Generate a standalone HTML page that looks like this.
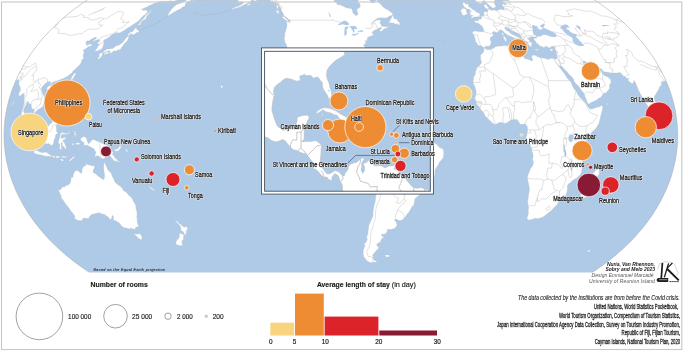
<!DOCTYPE html>
<html><head><meta charset="utf-8"><style>
html,body{margin:0;padding:0;background:#fff;}
svg{display:block;font-family:"Liberation Sans",Arial,sans-serif;}
.halo text{font-size:7px;fill:#fff;stroke:#fff;stroke-width:1.5px;stroke-opacity:.75;stroke-linejoin:round;}
.lb text{font-size:7px;fill:#222;stroke:#222;stroke-width:.3px;}
.it{font-size:7.1px;font-style:italic;fill:#222;stroke:#222;stroke-width:.12px;}
.cn{font-size:6.8px;fill:#1e1e1e;stroke:#1e1e1e;stroke-width:.28px;}
.lg{font-size:6.9px;fill:#1e1e1e;stroke:#1e1e1e;stroke-width:.15px;}
.au{font-size:5.0px;font-style:italic;}
</style></head><body>
<svg width="685" height="352" viewBox="0 0 685 352">
<defs>
<clipPath id="cb"><rect x="0" y="0" width="685" height="272.6"/></clipPath>
<clipPath id="ce"><path d="M540.4,299.4 540.8,299.2 541.8,298.8 543.5,298.1 545.8,297.0 548.7,295.7 552.1,294.2 556.0,292.4 560.2,290.4 564.7,288.1 569.5,285.7 574.4,283.1 579.4,280.3 584.5,277.3 589.6,274.1 594.6,270.9 599.6,267.5 604.6,263.9 609.4,260.3 614.1,256.5 618.7,252.6 623.2,248.6 627.5,244.6 631.6,240.4 635.6,236.2 639.4,231.8 643.1,227.4 646.5,223.0 649.9,218.5 653.0,213.9 655.9,209.2 658.7,204.5 661.3,199.8 663.7,195.0 665.9,190.2 668.0,185.3 669.8,180.4 671.5,175.5 672.9,170.5 674.2,165.6 675.3,160.6 676.1,155.6 676.8,150.5 677.3,145.5 677.6,140.5 677.7,135.4 677.6,130.4 677.3,125.4 676.8,120.3 676.1,115.3 675.3,110.3 674.2,105.3 672.9,100.3 671.5,95.4 669.8,90.4 668.0,85.6 665.9,80.7 663.7,75.9 661.3,71.1 658.7,66.3 655.9,61.6 653.0,57.0 649.9,52.4 646.5,47.9 643.1,43.4 639.4,39.0 635.6,34.7 631.6,30.5 627.5,26.3 623.2,22.2 618.7,18.3 614.1,14.4 609.4,10.6 604.6,7.0 599.6,3.4 594.6,-0.0 589.6,-3.3 584.5,-6.4 579.4,-9.4 574.4,-12.2 569.5,-14.8 564.7,-17.3 560.2,-19.5 556.0,-21.5 552.1,-23.3 548.7,-24.9 545.8,-26.2 543.5,-27.2 541.8,-27.9 540.8,-28.4 540.4,-28.5 141.3,-28.5 141.0,-28.4 139.9,-27.9 138.2,-27.2 135.9,-26.2 133.0,-24.9 129.6,-23.3 125.8,-21.5 121.6,-19.5 117.0,-17.3 112.3,-14.8 107.4,-12.2 102.4,-9.4 97.3,-6.4 92.2,-3.3 87.1,-0.0 82.1,3.4 77.2,7.0 72.3,10.6 67.6,14.4 63.0,18.3 58.6,22.2 54.3,26.3 50.1,30.5 46.2,34.7 42.3,39.0 38.7,43.4 35.2,47.9 31.9,52.4 28.8,57.0 25.8,61.6 23.0,66.3 20.5,71.1 18.0,75.9 15.8,80.7 13.8,85.6 11.9,90.4 10.3,95.4 8.8,100.3 7.6,105.3 6.5,110.3 5.6,115.3 4.9,120.3 4.4,125.4 4.1,130.4 4.0,135.4 4.1,140.5 4.4,145.5 4.9,150.5 5.6,155.6 6.5,160.6 7.6,165.6 8.8,170.5 10.3,175.5 11.9,180.4 13.8,185.3 15.8,190.2 18.0,195.0 20.5,199.8 23.0,204.5 25.8,209.2 28.8,213.9 31.9,218.5 35.2,223.0 38.7,227.4 42.3,231.8 46.2,236.2 50.1,240.4 54.3,244.6 58.6,248.6 63.0,252.6 67.6,256.5 72.3,260.3 77.2,263.9 82.1,267.5 87.1,270.9 92.2,274.1 97.3,277.3 102.4,280.3 107.4,283.1 112.3,285.7 117.0,288.1 121.6,290.4 125.8,292.4 129.6,294.2 133.0,295.7 135.9,297.0 138.2,298.1 139.9,298.8 141.0,299.2 141.3,299.4Z"/></clipPath>
<clipPath id="ci"><rect x="264.6" y="51.3" width="165.7" height="139.9"/></clipPath>
<g id="world"><path d="M372.2,33.4 373.7,35.1 372.9,35.6 371.6,35.8 369.7,36.4 367.8,37.3 367.3,37.9 367.3,39.5 366.1,41.4 365.0,40.1 365.8,42.8 364.7,45.2 363.9,43.7 363.9,45.9 365.0,47.2 365.6,49.7 364.0,50.8 362.0,52.0 360.5,52.9 359.3,54.2 357.5,55.9 356.2,57.9 355.9,60.9 356.3,62.6 357.4,65.4 357.7,67.3 358.6,69.4 358.5,71.6 358.0,73.0 356.9,73.0 356.6,71.8 355.5,70.1 354.7,68.9 354.0,67.5 353.6,65.9 353.7,64.5 352.6,63.5 351.6,61.9 350.7,61.6 348.9,62.3 347.5,60.7 345.2,60.9 344.2,60.2 343.0,60.7 341.6,61.2 341.9,62.8 342.3,63.8 341.2,63.5 340.0,63.8 338.6,63.3 336.8,62.6 334.2,62.3 332.6,63.3 331.4,64.5 329.6,65.6 328.1,67.3 327.7,69.4 328.1,71.3 327.5,73.5 327.1,76.3 326.8,79.2 327.7,82.4 328.9,85.8 329.8,87.8 331.8,89.2 332.8,90.0 334.5,89.5 336.5,89.0 338.3,88.2 339.6,87.0 340.2,84.8 340.3,83.1 341.8,82.4 344.0,81.9 346.1,81.9 346.7,83.4 345.6,85.1 345.2,87.3 344.9,89.5 344.2,89.0 344.0,91.4 344.0,94.4 343.3,95.6 344.9,95.9 347.5,95.9 350.1,95.4 351.7,96.4 353.4,97.8 353.0,99.8 352.9,102.8 352.5,105.8 352.7,107.8 353.7,110.0 355.0,111.8 356.1,113.0 357.6,113.0 359.5,112.0 360.4,111.3 362.1,111.8 363.6,113.3 364.5,113.8 365.3,114.3 365.6,113.0 366.5,111.8 367.4,110.5 367.6,109.3 368.3,108.0 369.1,107.8 370.2,107.3 371.8,107.0 373.1,106.0 374.2,105.0 375.3,104.3 375.9,105.3 374.8,107.0 374.5,108.0 375.0,109.0 374.5,110.3 375.1,112.8 376.0,111.5 376.0,109.0 375.2,107.8 376.1,107.3 377.6,106.8 377.9,105.0 378.5,106.5 380.2,106.8 381.3,108.8 383.0,108.8 385.1,108.8 387.1,110.0 388.8,109.0 391.0,108.8 393.0,108.5 392.1,109.5 391.8,110.5 393.7,111.3 395.2,113.8 397.1,114.5 398.8,116.8 400.0,118.3 401.9,120.3 404.3,120.8 406.2,120.3 408.1,121.1 410.2,121.8 411.9,123.8 413.2,124.9 413.8,126.4 415.0,130.4 415.7,132.9 415.9,135.9 418.5,136.9 419.5,137.5 421.2,137.2 424.3,138.7 426.0,141.7 428.0,141.5 430.5,142.2 433.5,142.5 435.3,143.5 437.3,145.0 439.5,147.5 441.2,148.3 443.0,148.8 443.7,151.8 443.7,155.1 443.0,158.1 441.6,159.8 439.4,162.3 437.7,165.8 435.9,168.1 435.0,170.5 434.6,175.0 433.8,179.2 432.6,181.9 431.8,184.3 430.0,188.2 429.4,190.2 427.3,192.4 425.3,192.6 422.3,193.3 420.2,194.5 417.7,196.2 415.0,198.8 414.4,201.2 414.0,204.5 412.3,206.4 410.5,209.2 409.1,212.0 407.0,214.3 405.1,217.3 403.5,218.7 402.1,220.0 400.3,220.5 398.6,220.5 397.2,219.6 395.0,219.1 394.5,220.3 396.4,222.1 396.5,223.7 397.2,224.8 395.4,227.7 393.6,228.8 390.5,229.4 388.1,229.6 387.2,229.2 387.3,231.0 386.3,233.1 384.0,234.4 381.9,233.8 381.8,236.2 383.1,236.6 383.9,237.9 382.4,238.1 381.2,239.6 380.6,241.4 380.0,242.5 377.7,243.3 376.5,245.2 378.0,246.6 378.9,248.0 377.8,249.2 375.8,251.0 374.6,253.0 373.1,254.0 372.7,255.7 373.6,257.1 371.9,257.4 373.2,257.8 373.5,259.3 374.4,260.3 376.1,261.2 377.7,261.9 375.6,262.3 373.4,262.1 371.1,262.8 369.0,262.1 366.9,260.8 365.6,259.1 364.2,257.4 363.4,255.7 363.2,253.0 363.3,250.0 364.2,247.8 365.3,245.4 363.8,245.0 365.6,242.5 366.8,241.0 367.3,238.9 366.6,237.6 367.3,235.3 368.0,232.9 368.2,230.1 368.6,227.4 368.7,225.7 370.3,222.1 371.3,219.8 372.4,217.5 373.1,214.8 373.2,210.6 373.7,207.4 374.5,204.1 375.3,201.0 375.7,197.4 376.1,194.0 376.6,190.2 377.0,186.5 376.8,181.4 374.9,179.7 373.0,177.5 370.6,175.5 368.1,173.5 366.3,170.5 365.6,168.1 364.8,165.6 363.2,161.8 361.5,157.6 360.3,154.6 359.0,152.8 357.3,150.8 357.9,149.3 357.1,147.0 358.3,144.8 359.2,143.8 360.0,141.7 359.0,141.5 357.9,140.7 358.1,138.0 359.0,135.9 359.6,133.9 360.5,132.7 361.8,131.4 362.4,129.1 364.1,126.6 364.6,124.9 364.4,121.3 364.2,118.8 363.2,117.1 362.5,115.1 361.9,113.8 360.2,113.0 358.8,114.8 358.8,116.6 357.3,116.3 356.0,114.8 354.1,114.8 352.8,113.5 350.9,111.3 350.0,110.5 348.9,110.5 348.7,108.3 348.9,107.5 347.4,105.5 345.9,103.6 345.1,102.3 343.6,102.3 342.0,101.6 339.8,100.6 338.3,100.3 336.8,99.1 335.0,96.9 333.5,95.1 332.2,94.9 330.8,95.6 328.9,96.1 326.6,95.4 324.7,93.9 322.7,93.4 320.6,91.7 319.1,90.7 316.2,89.7 314.6,88.0 313.2,86.5 312.6,84.6 313.2,82.9 312.9,80.2 311.7,78.3 310.5,76.3 309.0,74.4 307.9,72.8 306.6,72.0 306.4,70.1 305.3,68.5 304.5,66.8 303.6,66.6 302.2,64.5 301.0,61.6 300.6,59.3 299.2,58.2 297.8,57.5 298.0,59.1 297.6,61.6 299.4,64.0 300.2,65.2 301.0,68.0 302.1,69.9 302.9,71.6 303.9,73.9 304.5,75.4 305.3,76.8 305.0,78.5 304.4,77.6 303.2,75.9 301.5,74.4 301.2,73.0 301.2,70.6 299.9,69.2 298.4,67.8 297.0,67.3 298.1,66.3 297.7,65.2 296.2,62.6 295.3,60.0 294.8,58.4 294.0,55.9 293.8,54.5 292.6,52.9 291.8,52.4 290.5,51.5 288.5,51.3 288.5,49.9 287.6,48.8 286.8,47.2 287.1,46.1 286.2,45.2 286.3,43.9 285.5,43.2 284.6,41.4 284.7,39.5 284.1,38.2 284.7,36.9 284.9,34.7 284.7,33.0 285.7,31.1 286.2,29.0 286.7,27.1 286.9,25.7 287.0,24.3 286.6,22.4 286.6,21.4 289.0,21.8 289.9,23.0 290.2,20.8 289.4,20.0 288.5,19.1 287.6,18.5 286.4,17.5 284.6,16.7 283.5,15.7 283.4,14.0 282.5,12.5 281.4,11.0 280.9,9.5 280.8,8.0 279.6,7.0 278.8,5.2 277.9,3.4 276.8,2.4 275.1,2.5 273.4,2.0 272.0,1.3 270.5,0.5 268.4,-0.0 266.2,-0.0 263.9,-0.5 261.5,-1.5 259.0,-1.0 257.1,0.2 254.7,1.0 253.1,1.2 254.5,-0.7 252.7,-0.3 250.7,1.0 249.1,2.4 246.9,3.6 244.3,4.8 242.0,5.9 238.6,7.5 235.7,8.2 233.4,9.0 229.7,9.9 232.5,8.6 235.6,7.1 238.9,5.9 241.8,4.3 244.2,2.5 242.6,2.0 240.7,1.9 238.1,2.4 238.5,0.7 236.8,-0.3 235.4,-1.0 236.7,-2.6 236.3,-3.9 238.5,-5.2 241.2,-5.0 244.1,-6.4 242.7,-7.3 238.5,-7.6 237.1,-8.8 241.8,-9.8 244.4,-9.7 243.7,-11.5 242.3,-12.9 249.4,-14.8 257.2,-16.4 262.8,-15.8 271.1,-15.0 275.9,-14.4 281.8,-13.5 290.1,-14.8 297.7,-14.8 306.2,-13.4 314.9,-12.2 326.6,-11.9 333.1,-12.2 335.6,-9.4 340.9,-6.4 336.7,-3.9 335.0,-2.3 334.4,-0.3 334.3,1.7 336.3,2.2 337.3,4.5 340.0,4.8 343.2,6.2 345.6,7.5 348.4,8.2 351.4,8.4 352.3,10.2 352.8,12.5 353.9,14.0 355.4,15.3 356.6,15.5 357.6,14.8 357.8,13.2 357.3,11.4 356.6,10.1 358.0,8.6 359.7,7.3 360.4,5.9 359.9,4.1 359.0,3.1 357.4,2.2 358.4,0.3 358.2,-1.3 357.4,-3.9 361.5,-3.8 365.8,-2.6 368.8,-1.7 369.9,0.8 371.7,2.4 373.1,2.9 374.7,2.0 376.1,-0.0 377.3,0.7 378.8,2.7 381.1,4.5 382.4,6.4 384.8,8.2 387.5,9.7 389.8,11.2 392.4,13.4 393.0,14.8 391.4,15.5 389.1,16.3 387.2,17.7 384.5,18.1 381.2,17.7 378.5,17.9 376.8,19.1 374.6,20.2 372.8,22.0 370.8,24.5 372.1,23.7 373.6,22.0 375.1,21.0 377.3,20.0 379.7,19.8 381.0,20.8 380.2,22.0 379.7,22.6 380.9,24.3 381.2,25.5 383.1,26.5 385.5,26.7 387.0,26.9 387.8,25.9 388.7,26.5 387.3,27.8 385.2,28.6 383.2,29.4 382.1,30.9 380.4,31.5 379.5,30.5 381.0,28.8 382.2,27.8 380.9,27.6 379.2,28.0 377.8,28.6 376.8,29.4 375.4,29.8 374.2,30.7 372.9,31.3 372.2,32.4ZM389.2,23.0 390.5,22.8 392.3,23.0 394.4,23.3 395.6,24.5 397.0,23.5 398.5,24.9 399.8,24.7 399.6,23.0 398.4,21.2 397.1,20.4 397.2,19.1 395.7,19.1 393.9,18.5 393.5,16.3 393.4,15.2 391.8,16.7 391.1,18.5 390.3,20.0 389.3,21.4ZM288.6,21.6 286.6,21.0 285.3,19.8 283.4,18.5 281.9,16.9 283.6,16.5 285.6,17.9 286.9,19.2 288.3,20.8ZM406.4,0.3 403.4,-0.7 399.5,-1.7 396.4,-4.1 393.7,-6.4 390.6,-9.4 387.6,-12.2 385.1,-15.5 377.1,-20.6 364.6,-22.5 375.2,-25.9 408.6,-27.0 421.1,-25.6 426.1,-22.5 426.7,-17.3 424.7,-14.8 422.2,-12.9 416.1,-12.2 413.8,-9.4 410.1,-8.7 407.9,-6.4 407.5,-4.1 407.2,-1.7ZM433.0,-6.3 438.2,-5.5 442.6,-7.0 443.0,-8.2 439.9,-9.8 437.4,-9.7 433.5,-9.5 430.1,-10.0 428.4,-8.7 432.4,-7.2ZM350.0,81.0 351.0,79.7 352.8,78.5 354.2,78.0 356.0,78.0 357.8,78.3 359.6,79.0 361.1,79.7 362.7,80.9 364.2,81.7 365.9,82.6 367.0,83.4 368.4,84.1 369.7,84.9 368.5,85.4 366.9,85.7 364.7,85.7 363.2,85.9 364.1,84.3 362.8,83.8 361.5,81.9 360.0,81.7 358.2,80.7 356.6,80.4 355.5,80.0 353.8,79.0 352.6,80.2 351.2,80.8ZM353.7,80.9 354.3,81.9 353.7,82.0 353.3,81.4ZM369.3,89.6 370.6,90.0 372.3,90.1 373.8,90.0 374.9,91.3 375.9,89.8 377.4,89.8 378.7,89.3 379.8,89.8 380.4,89.0 379.3,88.2 378.0,87.8 377.7,87.1 378.6,87.3 377.3,86.3 375.8,85.9 374.1,85.9 372.5,85.7 371.1,85.9 371.8,86.5 372.4,87.3 372.3,88.2 373.2,88.9 371.2,89.0 369.3,88.9ZM362.2,89.8 363.5,89.2 364.8,89.3 366.0,90.0 365.4,90.7 364.3,91.1 363.2,90.8 362.2,90.0ZM382.4,89.2 384.1,89.2 385.4,89.6 385.2,90.4 383.6,90.6 382.5,90.4ZM393.0,108.3 394.7,108.2 394.8,109.8 394.7,110.2 393.1,110.2 393.7,109.2ZM362.3,73.0 362.9,74.4 362.8,76.3 361.8,75.4 361.6,73.9ZM360.4,69.4 361.8,69.3 362.4,69.7 361.3,69.8ZM363.4,68.9 364.0,69.9 363.8,71.1 363.3,70.1ZM364.6,72.3 365.5,73.0 365.7,74.2 365.2,73.2ZM367.3,76.6 368.0,78.0 367.7,78.3 367.3,77.3ZM370.4,82.6 371.7,82.6 371.5,83.4 370.6,83.2ZM364.3,75.1 366.6,77.3 366.4,77.4 364.5,75.6ZM366.6,74.2 367.0,75.4 366.9,75.5 366.5,74.7ZM-127.1,47.9 -126.8,46.5 -127.0,45.2 -130.1,45.7 -126.3,42.8 -126.1,41.7 -122.1,39.3 -118.6,36.9 -115.8,34.7 -113.7,32.8 -110.2,31.5 -108.3,31.1 -105.8,31.3 -103.5,31.7 -100.0,31.7 -95.8,29.4 -91.6,26.7 -88.6,23.9 -88.9,22.8 -89.9,22.4 -88.7,21.4 -85.4,20.6 -83.7,21.0 -82.6,20.8 -79.8,18.9 -79.8,19.4 -77.3,19.2 -74.7,18.5 -72.1,17.5 -70.4,16.5 -68.3,16.1 -65.8,15.5 -63.0,14.6 -59.8,13.2 -57.4,12.1 -55.4,11.7 -53.6,11.7 -51.4,11.4 -48.8,10.6 -46.5,9.3 -44.4,7.9 -41.0,6.1 -38.2,5.0 -36.0,4.6 -33.1,3.9 -35.9,5.2 -38.5,6.4 -37.3,6.2 -39.7,7.3 -42.4,8.0 -44.4,9.1 -44.8,10.1 -44.3,10.4 -42.4,10.1 -40.6,10.1 -41.1,10.8 -37.0,10.1 -33.5,9.3 -31.8,9.3 -31.4,9.9 -28.4,9.0 -24.8,7.5 -22.2,6.1 -18.3,4.5 -15.8,3.9 -16.8,5.0 -15.2,4.8 -11.2,2.9 -11.4,2.4 -9.4,1.3 -6.5,0.8 -4.1,0.8 -2.0,0.8 1.5,0.2 1.8,-0.3 0.0,-0.8 -3.8,-0.3 -7.7,0.2 -7.1,-1.2 -3.3,-3.0 0.8,-4.9 5.9,-6.4 11.8,-7.8 15.0,-8.7 12.9,-9.1 9.5,-8.5 3.2,-6.4 -3.0,-4.9 -8.8,-3.0 -13.0,-1.2 -12.8,-0.3 -15.2,1.0 -19.8,2.2 -24.1,3.8 -28.6,5.9 -31.2,6.8 -35.0,7.7 -36.0,8.0 -37.9,8.0 -35.5,6.6 -33.9,5.5 -31.6,4.1 -29.6,2.7 -27.1,1.3 -25.7,0.3 -29.3,1.7 -31.0,2.0 -35.1,3.2 -37.2,3.4 -37.0,2.4 -34.9,1.2 -31.6,-0.5 -28.0,-2.0 -25.2,-3.3 -20.9,-4.2 -15.9,-5.5 -10.2,-6.7 -5.3,-7.9 0.3,-9.4 7.7,-11.5 13.1,-12.9 19.2,-14.2 25.3,-15.1 31.8,-16.1 36.8,-16.1 38.0,-15.1 38.3,-13.9 40.6,-13.5 41.9,-11.9 39.0,-10.1 33.5,-9.4 30.5,-9.8 28.5,-10.1 25.5,-7.9 25.3,-6.4 28.9,-7.3 31.2,-7.2 38.8,-9.4 42.4,-9.8 49.0,-12.6 50.3,-12.2 55.5,-12.2 62.2,-12.9 68.2,-13.3 72.8,-14.2 79.2,-14.2 81.6,-13.5 95.9,-17.9 107.0,-18.4 124.7,-21.1 138.7,-22.0 150.6,-22.0 149.0,-19.2 156.3,-18.4 165.2,-17.9 172.1,-16.7 181.3,-17.9 190.9,-16.7 200.9,-14.6 213.9,-14.8 221.1,-14.4 225.1,-13.3 228.7,-11.5 234.1,-10.1 235.3,-9.4 230.0,-7.5 227.6,-6.9 225.0,-7.9 221.9,-8.2 217.7,-7.2 214.4,-4.9 215.8,-4.1 211.0,-3.3 208.0,-3.0 204.0,-1.5 200.3,-0.0 197.5,-0.5 194.1,0.2 191.1,0.3 188.8,1.3 185.6,3.4 185.1,5.2 184.7,6.6 182.5,7.1 180.8,8.8 176.8,10.6 173.1,12.7 167.4,16.3 168.6,13.4 171.1,9.7 173.6,7.0 177.2,4.3 179.9,3.4 183.6,1.7 188.7,-0.8 193.0,-2.5 193.5,-3.8 189.1,-2.8 187.1,-2.8 183.3,-2.5 177.0,0.3 173.2,1.3 170.9,0.8 167.7,1.2 164.9,1.2 161.3,1.2 157.2,2.4 153.8,3.6 149.8,5.5 146.8,7.0 142.8,8.8 140.9,9.3 143.1,9.5 143.2,10.6 145.5,10.1 147.0,10.2 147.5,11.9 146.0,14.0 143.1,15.9 141.0,18.3 138.3,21.2 134.3,23.7 130.7,26.3 128.0,27.8 124.1,30.5 120.7,32.4 117.8,33.2 116.7,32.2 114.5,33.4 113.3,34.1 111.4,35.1 109.5,37.1 108.2,37.7 106.2,39.0 104.3,39.7 103.4,40.8 104.0,42.1 103.7,43.9 103.3,45.9 102.2,48.1 100.7,49.7 99.3,50.1 97.0,51.1 95.1,51.5 95.2,50.6 96.7,48.8 97.9,46.8 97.9,45.9 99.8,44.5 99.0,44.1 97.5,44.1 97.8,43.2 97.4,42.8 99.1,41.7 100.0,40.1 99.3,39.7 98.9,39.3 96.5,39.9 93.7,41.2 92.4,41.7 93.7,40.3 95.1,39.3 96.4,38.2 96.2,37.1 95.0,37.3 92.9,38.4 91.0,39.5 88.9,41.0 87.5,40.8 86.1,41.9 85.7,43.0 86.4,43.4 86.3,45.0 86.9,45.4 89.1,44.3 91.0,44.1 92.2,45.0 91.3,45.9 88.7,46.5 86.7,47.9 83.7,50.1 83.0,51.1 84.3,51.7 83.6,53.8 83.0,56.1 83.7,57.7 82.7,59.6 81.4,60.0 81.7,61.6 80.7,63.5 79.0,65.6 77.2,67.3 75.2,69.2 73.1,71.1 72.1,72.8 69.9,74.4 67.9,75.9 65.3,77.6 62.8,78.8 61.0,79.2 59.8,80.0 58.7,80.0 57.5,80.7 55.7,81.2 53.6,81.9 52.1,82.6 51.2,84.6 50.2,84.8 50.5,83.1 50.8,81.7 49.0,81.7 47.3,81.9 45.3,83.4 44.0,85.1 42.3,86.5 41.3,88.5 41.9,90.4 42.2,92.4 43.1,94.4 43.9,95.9 44.5,97.4 44.2,100.6 43.6,103.8 42.9,106.3 41.6,107.5 39.2,109.0 37.7,109.5 36.5,111.0 34.7,112.8 33.4,113.8 34.0,111.3 34.3,109.5 33.4,109.3 31.9,108.8 31.4,106.5 31.0,104.8 29.6,103.6 28.1,103.6 28.6,101.8 27.1,101.6 26.4,104.1 24.6,107.8 23.7,109.8 23.6,112.3 24.5,112.3 24.7,114.5 24.9,117.1 25.7,118.1 27.0,118.1 27.8,119.8 29.1,121.3 29.6,123.3 29.5,125.6 29.3,127.9 30.0,129.1 30.7,131.4 29.5,132.2 29.2,131.4 27.7,130.4 25.6,128.4 24.9,126.6 24.3,124.1 24.2,121.3 24.3,119.3 23.3,118.1 22.6,116.3 21.7,115.1 21.3,113.8 22.1,111.5 22.7,109.0 23.0,106.5 23.8,104.6 24.0,102.3 23.9,99.1 24.3,95.4 24.2,93.2 22.4,94.1 20.1,95.9 18.6,95.4 18.7,93.6 20.4,90.4 20.3,88.0 20.1,86.5 19.2,85.6 18.8,83.6 19.1,81.4 19.4,80.0 18.6,79.2 16.8,80.4 15.6,80.7 13.8,81.2 12.3,81.4 9.9,81.9 9.0,83.6 7.6,85.1 5.3,86.3 3.6,87.5 1.3,89.7 -0.5,90.9 -3.0,92.9 -4.9,94.6 -6.5,95.6 -8.3,97.4 -9.4,100.3 -9.6,102.3 -10.6,104.6 -11.4,106.5 -12.1,108.8 -13.2,109.5 -14.5,112.0 -16.0,113.0 -17.6,115.1 -18.4,114.0 -19.0,112.3 -19.1,110.0 -19.2,107.0 -19.4,105.0 -19.9,102.8 -19.6,100.3 -19.9,98.3 -20.1,95.6 -19.7,92.9 -19.1,90.0 -18.3,87.5 -17.3,84.8 -16.3,82.9 -16.2,81.7 -15.7,80.2 -17.4,81.9 -19.5,83.6 -20.7,83.4 -21.5,81.7 -21.7,80.2 -19.7,78.8 -18.7,78.5 -20.8,78.8 -21.2,77.8 -21.4,76.6 -22.6,76.3 -22.1,74.2 -22.0,72.5 -24.1,72.8 -26.1,73.0 -28.0,73.0 -30.5,73.0 -31.6,73.2 -33.3,72.5 -34.7,72.3 -36.4,72.0 -37.9,71.6 -36.9,69.2 -37.7,68.5 -40.1,69.7 -41.6,69.9 -43.1,69.4 -44.1,67.8 -45.1,66.6 -44.9,64.5 -44.0,61.9 -44.9,61.6 -45.4,60.7 -47.2,61.9 -48.9,63.3 -49.6,65.2 -50.4,67.3 -50.1,68.9 -49.9,70.4 -51.0,72.0 -51.2,73.5 -51.3,74.2 -50.7,74.7 -50.4,75.1 -50.5,75.9 -48.8,75.4 -47.1,75.6 -46.1,75.4 -44.1,73.9 -42.0,72.5 -39.9,70.8 -38.8,70.1 -40.0,71.8 -41.0,73.7 -41.0,75.4 -40.6,76.1 -39.4,76.6 -38.6,77.1 -38.6,79.0 -38.1,79.5 -40.4,82.1 -42.4,84.1 -43.9,84.6 -45.2,86.3 -46.0,88.0 -48.1,89.0 -49.7,90.7 -51.9,91.4 -53.0,92.9 -54.7,92.9 -56.8,93.6 -59.2,95.6 -61.7,97.4 -65.1,98.6 -67.4,100.3 -68.8,100.3 -70.9,101.6 -73.5,102.1 -75.2,103.3 -77.2,103.8 -78.1,103.8 -78.0,102.3 -77.4,100.1 -77.3,98.3 -76.9,96.1 -76.0,94.4 -75.7,92.9 -76.4,90.9 -76.3,88.7 -76.0,86.8 -76.3,85.1 -76.8,83.6 -76.8,81.9 -75.3,79.2 -74.9,76.8 -75.1,75.6 -75.2,74.4 -75.0,73.2 -74.6,71.3 -74.3,69.7 -74.1,67.8 -73.7,66.1 -74.6,66.1 -72.6,64.0 -71.6,62.8 -72.8,63.8 -74.6,65.6 -75.8,66.8 -75.8,66.1 -75.7,64.9 -75.5,63.8 -74.7,61.9 -72.7,58.6 -72.2,59.3 -69.2,58.6 -68.1,57.9 -65.0,55.2 -61.9,52.6 -59.7,51.1 -57.9,49.0 -54.8,46.5 -55.8,46.5 -57.1,46.1 -59.4,47.4 -62.2,47.7 -62.4,46.5 -64.1,46.3 -65.3,47.2 -67.0,47.7 -67.3,46.3 -69.1,46.3 -67.7,45.0 -68.2,44.8 -66.9,43.4 -67.8,43.0 -65.2,41.4 -65.1,40.6 -64.7,40.1 -62.6,38.6 -61.8,38.2 -60.6,38.2 -59.5,38.2 -56.2,37.1 -55.8,36.4 -57.2,36.7 -59.9,37.1 -61.0,37.1 -62.5,37.1 -64.0,37.1 -65.8,37.5 -66.2,38.8 -67.3,38.4 -67.8,37.9 -69.4,39.0 -70.1,40.8 -71.7,41.4 -71.7,42.3 -71.6,43.0 -72.8,44.1 -73.9,43.9 -74.6,44.8 -77.0,46.1 -78.5,47.0 -78.9,46.1 -77.6,44.3 -76.2,42.8 -75.2,42.5 -74.3,43.0 -74.6,41.4 -75.2,41.2 -74.5,39.9 -73.9,39.0 -74.0,38.4 -72.2,37.1 -70.0,35.1 -69.4,34.1 -69.4,33.4 -69.8,32.6 -70.2,31.5 -70.4,31.1 -70.1,30.1 -69.2,29.6 -68.2,28.4 -68.3,27.8 -70.4,28.8 -69.9,28.2 -68.4,26.9 -69.1,26.9 -71.2,27.6 -72.6,28.6 -74.8,30.1 -74.8,30.9 -74.7,31.5 -76.0,33.0 -76.7,34.3 -76.8,34.9 -75.3,34.9 -76.5,35.8 -75.9,36.4 -75.5,37.1 -75.7,38.6 -77.1,39.5 -76.8,38.4 -77.8,38.2 -80.1,39.5 -80.1,40.3 -81.4,41.4 -82.5,41.7 -85.4,43.4 -86.3,43.7 -85.5,43.0 -83.7,41.7 -81.5,40.1 -80.8,38.8 -81.5,38.6 -80.9,37.7 -81.4,37.3 -81.1,36.4 -82.0,36.2 -82.2,35.4 -82.0,34.1 -81.5,32.8 -79.0,30.7 -79.6,30.5 -79.7,29.6 -81.1,30.1 -83.4,30.9 -85.4,31.5 -87.4,32.4 -88.5,32.4 -88.9,31.7 -89.6,31.5 -91.5,31.9 -93.7,32.8 -95.4,34.3 -96.9,35.1 -100.1,36.4 -102.8,36.9 -103.6,37.5 -106.5,38.8 -109.4,40.6 -110.1,41.7 -112.4,42.8 -114.6,44.3 -116.4,44.8 -119.4,46.3 -121.6,46.3 -123.3,46.3 -125.1,47.0ZM484.2,47.9 482.5,46.5 480.2,45.2 477.8,45.7 477.0,42.8 475.4,41.7 475.3,39.3 474.7,36.9 473.7,34.7 472.2,32.8 473.3,31.5 474.4,31.1 477.3,31.3 480.4,31.7 483.9,31.7 483.6,29.4 482.5,26.7 479.4,23.9 477.0,22.8 475.1,22.4 474.1,21.4 475.7,20.6 478.2,21.0 478.9,20.8 477.2,18.9 478.6,19.4 480.7,19.2 481.5,18.5 481.8,17.5 481.2,16.5 482.4,16.1 483.5,15.5 484.0,14.6 483.9,13.2 483.5,12.1 484.6,11.7 486.4,11.7 487.6,11.4 488.3,10.6 487.2,9.3 485.4,7.9 483.9,6.1 483.8,5.0 485.0,4.6 485.9,3.9 486.6,5.2 487.4,6.4 488.1,6.2 488.7,7.3 487.9,8.0 488.9,9.1 490.9,10.1 492.3,10.4 493.2,10.1 495.0,10.1 496.5,10.8 498.6,10.1 500.3,9.3 501.9,9.3 503.8,9.9 504.4,9.0 504.1,7.5 502.7,6.1 502.2,4.5 503.2,3.9 505.2,5.0 506.3,4.8 504.9,2.9 503.1,2.4 502.2,1.3 503.5,0.8 505.9,0.8 508.1,0.8 509.5,0.2 508.3,-0.3 505.0,-0.8 502.7,-0.3 500.3,0.2 496.8,-1.2 495.1,-3.0 493.1,-4.9 493.1,-6.4 494.4,-7.8 494.6,-8.7 490.9,-9.1 489.6,-8.5 490.4,-6.4 489.2,-4.9 489.6,-3.0 490.9,-1.2 493.7,-0.3 495.3,1.0 494.2,2.2 494.4,3.8 495.9,5.9 495.7,6.8 494.4,7.7 494.4,8.0 492.5,8.0 490.9,6.6 489.6,5.5 487.9,4.1 485.9,2.7 484.4,1.3 482.8,0.3 483.2,1.7 482.5,2.0 481.9,3.2 480.3,3.4 477.5,2.4 476.2,1.2 474.4,-0.5 473.5,-2.0 472.1,-3.3 473.4,-4.2 474.3,-5.5 475.9,-6.7 476.8,-7.9 477.4,-9.4 477.2,-11.5 477.6,-12.9 478.8,-14.2 481.5,-15.1 484.1,-16.1 489.2,-16.1 494.2,-15.1 498.9,-13.9 502.6,-13.5 509.9,-11.9 513.5,-10.1 510.5,-9.4 506.0,-9.8 503.0,-10.1 507.6,-7.9 512.5,-6.4 513.0,-7.3 515.9,-7.2 515.8,-9.4 517.9,-9.8 514.5,-12.6 517.3,-12.2 522.5,-12.2 526.7,-12.9 531.2,-13.3 532.4,-14.2 538.8,-14.2 543.7,-13.5 541.3,-17.9 550.1,-18.4 557.0,-21.1 566.9,-22.0 578.8,-22.0 589.0,-19.2 599.3,-18.4 610.6,-17.9 622.1,-16.7 626.7,-17.9 640.9,-16.7 659.0,-14.6 671.0,-14.8 679.7,-14.4 688.1,-13.3 698.2,-11.5 708.6,-10.1 712.3,-9.4 713.7,-7.5 713.2,-6.9 707.1,-7.9 703.0,-8.2 702.3,-7.2 706.7,-4.9 710.6,-4.1 708.4,-3.3 706.4,-3.0 706.9,-1.5 707.8,-0.0 703.5,-0.5 702.1,0.2 699.7,0.3 700.4,1.3 703.2,3.4 707.6,5.2 711.1,6.6 710.4,7.1 713.0,8.8 713.8,10.6 715.4,12.7 718.6,16.3 712.7,13.4 705.8,9.7 701.0,7.0 697.2,4.3 697.4,3.4 696.1,1.7 693.7,-0.8 692.9,-2.5 689.3,-3.8 688.0,-2.8 685.9,-2.8 683.2,-2.5 685.5,0.3 684.7,1.3 680.9,0.8 678.7,1.2 675.9,1.2 672.3,1.2 671.8,2.4 671.8,3.6 673.3,5.5 674.2,7.0 675.0,8.8 674.6,9.3 677.3,9.5 680.3,10.6 681.2,10.1 683.1,10.2 687.9,11.9 691.6,14.0 693.3,15.9 696.7,18.3 700.6,21.2 701.9,23.7 703.9,26.3 704.1,27.8 705.6,30.5 705.7,32.4 704.5,33.2 701.4,32.2 701.6,33.4 701.5,34.1 701.6,35.1 703.2,37.1 703.1,37.7 703.3,39.0 702.4,39.7 703.4,40.8 706.2,42.1 708.8,43.9 711.6,45.9 713.8,48.1 714.8,49.7 714.0,50.1 713.0,51.1 711.7,51.5 710.6,50.6 709.3,48.8 707.5,46.8 706.2,45.9 705.9,44.5 704.5,44.1 703.0,44.1 701.8,43.2 700.7,42.8 700.6,41.7 698.9,40.1 697.5,39.7 696.4,39.3 695.0,39.9 694.5,41.2 693.9,41.7 693.0,40.3 692.5,39.3 691.9,38.2 689.8,37.1 689.1,37.3 688.8,38.4 688.8,39.5 689.3,41.0 687.6,40.8 687.9,41.9 689.3,43.0 690.7,43.4 693.2,45.0 694.4,45.4 694.9,44.3 696.4,44.1 699.1,45.0 699.6,45.9 698.0,46.5 698.0,47.9 698.4,50.1 699.0,51.1 701.3,51.7 703.5,53.8 706.0,56.1 708.8,57.7 710.2,59.6 709.5,60.0 711.8,61.6 713.1,63.5 713.9,65.6 713.9,67.3 714.1,69.2 714.0,71.1 714.6,72.8 714.2,74.4 713.6,75.9 712.5,77.6 711.2,78.8 709.8,79.2 709.3,80.0 708.2,80.0 707.6,80.7 706.3,81.2 704.8,81.9 703.9,82.6 704.6,84.6 703.8,84.8 702.7,83.1 701.8,81.7 700.0,81.7 698.5,81.9 697.7,83.4 697.7,85.1 697.3,86.5 697.7,88.5 699.8,90.4 701.4,92.4 703.6,94.4 705.4,95.9 706.8,97.4 708.4,100.6 709.5,103.8 710.0,106.3 709.2,107.5 707.5,109.0 706.1,109.5 705.5,111.0 704.4,112.8 703.4,113.8 703.1,111.3 702.8,109.5 701.8,109.3 700.0,108.8 698.6,106.5 697.4,104.8 695.4,103.6 693.9,103.6 693.5,101.8 691.9,101.6 692.4,104.1 692.4,107.8 692.2,109.8 693.1,112.3 694.0,112.3 695.0,114.5 696.0,117.1 697.1,118.1 698.4,118.1 699.5,119.8 701.2,121.3 702.2,123.3 702.4,125.6 702.5,127.9 703.4,129.1 704.2,131.4 703.1,132.2 702.7,131.4 701.2,130.4 698.8,128.4 698.0,126.6 697.0,124.1 696.4,121.3 695.9,119.3 694.6,118.1 693.4,116.3 692.1,115.1 691.3,113.8 691.3,111.5 691.0,109.0 690.2,106.5 690.1,104.6 689.2,102.3 687.3,99.1 685.4,95.4 683.9,93.2 682.8,94.1 681.5,95.9 679.7,95.4 678.8,93.6 678.2,90.4 676.4,88.0 675.1,86.5 673.4,85.6 671.3,83.6 669.9,81.4 668.9,80.0 667.4,79.2 666.7,80.4 665.7,80.7 664.3,81.2 663.0,81.4 661.0,81.9 661.6,83.6 661.4,85.1 660.1,86.3 659.3,87.5 658.6,89.7 657.7,90.9 656.5,92.9 655.8,94.6 654.8,95.6 654.0,97.4 654.7,100.3 655.5,102.3 655.7,104.6 655.8,106.5 656.0,108.8 655.2,109.5 655.0,112.0 653.8,113.0 652.8,115.1 651.7,114.0 650.5,112.3 649.6,110.0 648.3,107.0 647.1,105.0 645.5,102.8 644.5,100.3 643.1,98.3 641.2,95.6 639.9,92.9 638.4,90.0 637.4,87.5 636.3,84.8 635.7,82.9 634.7,81.7 634.0,80.2 633.7,81.9 633.1,83.6 631.7,83.4 629.5,81.7 628.0,80.2 628.7,78.8 629.5,78.5 627.6,78.8 626.3,77.8 624.9,76.6 623.6,76.3 621.9,74.2 620.3,72.5 618.4,72.8 616.8,73.0 614.8,73.0 612.3,73.0 611.5,73.2 609.1,72.5 607.3,72.3 605.5,72.0 603.5,71.6 601.9,69.2 600.3,68.5 599.3,69.7 598.0,69.9 596.0,69.4 593.1,67.8 590.8,66.6 588.6,64.5 586.4,61.9 585.2,61.6 583.6,60.7 583.2,61.9 583.2,63.3 584.7,65.2 586.4,67.3 588.5,68.9 590.2,70.4 590.8,72.0 592.1,73.5 592.8,74.2 593.8,74.7 594.6,75.1 595.2,75.9 596.4,75.4 598.3,75.6 599.1,75.4 599.6,73.9 600.3,72.5 600.7,70.8 601.1,70.1 601.6,71.8 602.6,73.7 604.2,75.4 605.3,76.1 607.0,76.6 608.2,77.1 610.0,79.0 610.9,79.5 611.0,82.1 610.6,84.1 609.5,84.6 609.5,86.3 610.0,88.0 608.7,89.0 608.3,90.7 606.7,91.4 606.5,92.9 604.9,92.9 603.2,93.6 602.1,95.6 600.7,97.4 598.0,98.6 596.7,100.3 595.3,100.3 593.9,101.6 591.6,102.1 590.5,103.3 588.7,103.8 587.8,103.8 587.2,102.3 586.5,100.1 585.6,98.3 584.8,96.1 584.5,94.4 583.8,92.9 581.9,90.9 580.4,88.7 579.1,86.8 577.5,85.1 575.8,83.6 574.4,81.9 573.5,79.2 571.7,76.8 570.4,75.6 569.1,74.4 568.1,73.2 566.5,71.3 565.0,69.7 563.2,67.8 561.7,66.1 560.8,66.1 560.3,64.0 560.0,62.8 559.8,63.8 560.3,65.6 560.4,66.8 559.6,66.1 558.4,64.9 557.2,63.8 555.7,61.9 553.7,58.6 555.0,59.3 557.1,58.6 557.3,57.9 556.8,55.2 556.4,52.6 556.3,51.1 555.1,49.0 554.5,46.5 553.5,46.5 551.5,46.1 551.2,47.4 548.8,47.7 546.8,46.5 544.9,46.3 545.0,47.2 544.0,47.7 541.7,46.3 539.8,46.3 539.1,45.0 538.3,44.8 537.5,43.4 535.9,43.0 535.9,41.4 534.6,40.6 534.2,40.1 533.7,38.6 533.8,38.2 534.9,38.2 536.1,38.2 537.4,37.1 536.7,36.4 535.7,36.7 533.8,37.1 532.7,37.1 531.2,37.1 529.7,37.1 528.6,37.5 530.5,38.8 528.6,38.4 527.4,37.9 527.6,39.0 529.9,40.8 529.4,41.4 530.9,42.3 532.0,43.0 532.6,44.1 531.1,43.9 531.9,44.8 531.6,46.1 531.5,47.0 529.7,46.1 528.2,44.3 527.1,42.8 527.8,42.5 529.4,43.0 526.6,41.4 525.6,41.2 524.1,39.9 523.2,39.0 522.0,38.4 521.5,37.1 520.2,35.1 518.8,34.1 517.7,33.4 515.7,32.6 513.3,31.5 512.3,31.1 510.6,30.1 510.6,29.6 509.1,28.4 507.8,27.8 507.7,28.8 507.1,28.2 506.0,26.9 505.4,26.9 504.5,27.6 505.2,28.6 505.9,30.1 507.5,30.9 508.8,31.5 510.2,33.0 511.9,34.3 513.1,34.9 514.5,34.9 514.8,35.8 516.7,36.4 518.2,37.1 520.6,38.6 520.7,39.5 519.2,38.4 517.7,38.2 517.7,39.5 519.2,40.3 519.7,41.4 519.0,41.7 519.0,43.4 518.4,43.7 518.1,43.0 517.8,41.7 517.4,40.1 515.9,38.8 514.8,38.6 513.9,37.7 512.7,37.3 511.4,36.4 510.1,36.2 508.4,35.4 506.2,34.1 504.4,32.8 502.8,30.7 501.9,30.5 500.2,29.6 499.6,30.1 498.9,30.9 498.1,31.5 497.7,32.4 496.6,32.4 495.0,31.7 493.9,31.5 492.8,31.9 492.2,32.8 493.3,34.3 493.3,35.1 492.5,36.4 490.5,36.9 490.8,37.5 490.2,38.8 490.3,40.6 491.4,41.7 490.9,42.8 491.1,44.3 490.1,44.8 489.6,46.3 487.4,46.3 485.7,46.3 484.9,47.0ZM553.7,58.6 552.1,58.2 549.7,58.4 549.3,59.1 548.1,59.6 545.7,58.6 543.3,57.9 541.0,57.9 538.5,57.0 536.7,56.3 536.1,55.6 533.7,54.9 532.5,55.4 531.6,56.5 532.0,58.4 532.8,59.6 532.4,60.7 531.0,60.7 529.2,59.8 527.2,59.1 524.7,58.4 523.6,57.0 523.0,56.3 520.9,55.4 518.9,54.9 517.3,54.9 515.9,54.5 515.0,54.0 514.3,52.9 513.2,52.9 512.4,51.7 513.2,50.6 513.3,49.7 512.3,48.6 511.3,47.0 511.5,45.4 509.9,45.2 508.6,45.0 507.1,45.9 505.1,45.4 503.4,45.4 502.1,46.3 499.9,45.9 498.4,46.1 496.8,46.5 495.3,46.8 494.0,48.1 492.8,48.6 491.9,48.6 490.7,49.9 489.4,49.5 487.0,49.7 485.0,48.3 483.9,48.3 483.9,49.9 483.4,52.2 482.6,53.3 481.2,54.2 480.4,55.6 480.6,57.0 480.5,58.9 481.1,60.5 481.7,61.9 480.9,63.8 480.0,64.7 479.1,66.1 477.6,66.6 476.9,67.3 476.2,70.6 475.5,71.3 475.4,73.9 474.6,75.4 473.7,76.6 473.6,78.5 473.3,80.2 473.0,82.1 473.5,84.1 474.4,85.6 475.1,87.8 475.8,89.7 476.3,92.2 475.9,94.1 475.4,96.4 474.9,98.1 474.4,98.6 475.2,99.3 476.2,101.3 476.1,102.3 476.5,104.3 477.3,105.3 478.9,106.3 480.0,108.0 480.9,109.8 482.3,111.3 483.7,112.8 484.4,114.5 485.5,116.3 486.9,117.8 488.5,119.3 489.4,120.1 491.4,122.1 493.3,123.6 495.1,124.6 496.9,123.8 498.5,122.8 500.6,122.3 502.8,122.8 505.3,123.6 506.9,122.8 508.0,122.1 509.8,120.8 511.3,120.1 513.8,119.6 515.5,119.6 517.0,119.6 518.0,120.8 519.1,122.6 520.3,124.6 521.6,124.3 523.1,124.3 524.5,123.8 525.5,124.1 526.3,125.4 527.3,126.4 527.5,128.4 527.6,130.4 527.2,132.7 526.9,134.2 526.7,135.9 525.9,137.2 526.3,139.0 527.4,140.7 528.6,142.7 529.9,145.0 531.1,147.0 531.9,149.3 531.6,151.0 532.6,152.8 533.0,155.1 533.1,157.1 532.4,158.8 532.9,160.8 533.5,162.3 533.1,164.3 532.4,166.3 530.9,168.1 529.8,170.5 528.8,173.0 527.9,175.0 527.4,178.0 527.5,179.4 528.3,182.6 528.7,184.8 529.2,187.3 529.5,189.7 529.1,192.1 528.5,195.0 528.3,197.4 527.8,199.8 527.6,202.2 527.8,203.6 528.3,205.9 528.6,207.6 528.3,210.4 528.4,212.7 528.2,214.6 527.4,216.6 527.0,218.2 526.8,219.1 527.6,218.9 528.1,219.8 528.9,220.3 530.8,219.4 532.4,219.4 534.2,218.5 536.0,218.2 537.7,218.7 539.6,218.2 541.2,217.8 543.0,216.9 545.1,215.5 547.5,213.6 549.7,211.8 551.6,210.2 553.1,208.5 555.1,206.6 556.7,205.2 557.8,203.3 559.1,201.2 559.6,199.6 561.3,198.1 563.7,196.9 565.6,195.5 566.7,192.8 567.3,190.4 567.4,188.2 567.3,185.8 568.8,183.6 570.6,182.4 572.6,180.4 574.8,178.9 577.0,178.0 579.0,176.0 580.9,174.0 581.6,171.5 582.0,168.3 582.4,165.3 582.7,162.3 582.2,160.6 581.5,157.6 581.8,155.1 582.2,152.8 581.2,151.0 581.6,148.8 582.6,147.3 583.3,145.8 584.2,143.5 585.1,142.0 586.5,140.2 587.7,138.2 589.0,136.2 590.5,133.9 592.3,131.7 594.5,130.1 596.3,128.1 597.7,125.6 598.9,123.3 599.6,120.8 600.3,118.3 600.9,115.3 601.8,112.0 602.5,109.3 602.7,107.3 602.6,105.8 601.3,105.5 599.6,106.8 598.0,107.0 596.2,107.5 594.3,108.3 592.6,108.8 590.8,109.3 589.3,108.3 587.7,106.5 587.1,104.8 585.7,103.3 584.2,101.3 582.4,99.6 580.4,97.8 579.2,96.6 578.0,94.9 576.6,91.9 575.7,90.4 574.0,88.7 572.4,85.8 571.2,82.6 570.0,80.7 568.8,79.7 567.0,78.0 566.0,76.1 564.9,74.4 563.2,72.0 561.5,69.9 560.1,68.0 558.5,66.1 556.3,63.3 555.6,61.9ZM598.8,165.6 599.4,168.3 599.3,172.3 599.3,174.0 597.9,176.0 596.5,178.5 595.4,181.2 593.6,184.3 591.6,187.8 589.5,191.4 587.5,195.0 585.9,197.4 584.1,197.9 581.9,198.8 580.8,197.6 580.6,195.7 581.2,193.1 581.6,190.2 582.8,188.0 584.8,185.8 585.7,183.4 585.8,180.9 586.4,178.0 587.5,176.2 589.4,175.5 591.2,174.8 593.0,173.3 594.6,171.8 595.6,169.8 596.9,169.1 598.1,166.6ZM656.6,111.0 657.1,110.8 658.5,112.3 659.5,113.8 660.6,115.8 661.3,117.3 661.2,119.1 660.3,119.8 659.3,120.4 658.3,119.8 657.7,118.1 657.2,115.8 656.8,114.0 657.2,112.3ZM470.9,18.1 472.1,18.3 472.9,17.5 474.0,17.1 475.7,17.1 477.2,16.7 479.2,16.7 480.6,15.9 479.3,15.3 480.1,14.6 479.3,13.1 476.7,12.3 475.8,11.4 474.1,9.9 472.5,9.3 471.0,7.9 469.8,7.1 468.3,7.0 468.6,6.2 468.6,5.2 468.2,4.1 466.6,3.9 465.3,4.1 465.1,2.4 462.4,2.4 462.5,3.4 462.9,4.6 463.8,5.9 463.3,6.4 465.2,7.5 466.6,8.6 467.0,9.3 468.4,9.0 469.6,9.3 470.0,10.4 471.1,11.0 471.4,11.7 469.4,11.7 469.5,12.7 470.8,13.6 470.1,14.4 469.9,15.0 471.6,15.2 473.2,15.5 472.0,15.9 471.8,16.7 471.2,17.3ZM466.7,11.9 466.0,10.6 466.5,9.9 465.1,8.6 463.5,8.4 462.4,8.2 461.6,9.0 462.0,10.1 460.0,10.2 461.0,11.7 462.1,12.9 461.6,14.2 463.1,15.3 464.9,15.2 466.1,14.4 467.6,14.0ZM512.9,43.7 514.1,43.0 516.1,43.4 517.8,42.8 517.9,44.8 519.0,46.3 517.1,45.9 514.5,44.5 513.4,44.3ZM502.8,37.1 504.2,36.4 505.4,37.3 506.6,39.9 506.7,41.0 505.5,41.4 504.7,40.3 503.9,38.4ZM502.5,32.6 503.4,33.9 503.9,35.6 503.1,35.6 502.1,34.3 501.7,33.2ZM534.2,49.0 535.6,49.2 537.3,49.2 539.2,49.7 538.9,50.1 537.0,50.4 534.6,49.7ZM549.7,50.1 550.4,49.2 552.8,48.6 552.3,49.9 553.1,51.1 551.2,51.1 550.1,50.6ZM102.1,52.4 103.8,51.3 106.9,49.0 109.3,49.0 111.8,48.6 112.8,48.6 115.0,46.8 116.4,45.2 116.5,46.1 119.3,44.8 121.8,43.2 123.6,41.2 125.1,39.3 126.1,37.7 127.7,36.4 129.3,36.2 128.3,38.2 127.6,40.3 125.7,42.5 124.3,43.4 123.0,45.7 121.7,47.2 121.1,48.6 119.8,49.7 118.6,50.4 118.8,49.5 117.7,49.9 116.4,51.1 115.4,51.1 113.6,51.1 112.8,51.7 112.1,52.4 109.9,53.6 109.4,52.6 110.4,51.1 108.8,50.8 106.2,51.5 104.3,52.4 102.8,52.6ZM99.2,54.0 100.6,53.3 102.0,52.6 102.6,53.3 102.5,54.9 100.3,57.9 98.4,59.3 97.7,58.6 98.5,57.2 99.8,55.9 99.1,55.4 98.9,54.9ZM103.9,54.2 105.4,52.6 107.1,51.7 108.7,52.0 108.4,52.9 106.9,54.0 105.5,53.8 104.1,55.2ZM127.3,35.8 129.1,35.4 131.0,33.6 132.1,34.3 133.4,34.7 136.9,32.6 139.0,31.9 139.3,30.5 137.8,30.3 136.8,29.6 136.3,27.3 134.2,29.4 132.2,31.9 130.7,31.9 128.7,33.6ZM137.1,26.3 139.5,23.3 140.9,21.0 143.6,18.3 145.9,15.3 149.1,12.5 150.9,10.1 151.6,10.2 149.5,13.2 146.8,16.3 145.3,19.6 143.7,19.8 141.1,22.2 140.4,25.1 139.2,24.9ZM74.8,73.0 76.2,73.5 74.3,76.6 72.5,79.2 71.4,80.9 71.0,79.0 71.6,77.1 73.0,74.9ZM47.2,87.3 49.6,85.6 51.3,85.3 51.6,86.5 49.9,89.0 47.9,90.0 46.5,89.2ZM68.2,89.2 69.6,89.0 71.2,89.2 70.5,92.2 70.2,94.6 68.1,96.1 67.4,99.1 68.2,100.3 69.5,99.8 70.2,100.8 71.2,102.8 70.8,103.8 69.7,102.8 68.6,102.1 67.4,100.8 65.4,100.6 65.5,99.3 64.9,98.1 65.2,94.6 66.5,94.1 67.4,91.4ZM64.9,118.1 65.8,116.3 67.9,115.8 68.8,114.8 70.5,113.0 72.3,111.0 73.5,112.0 73.7,114.5 73.5,117.3 72.6,119.3 71.2,120.6 71.0,118.6 69.4,119.8 68.5,118.8 68.1,116.3 66.5,116.8 65.3,118.1ZM71.3,104.1 73.2,104.1 73.3,107.5 71.6,109.5 71.3,108.3 71.0,106.5ZM66.6,105.5 67.9,106.3 68.4,107.5 66.9,109.0 66.0,108.8ZM67.2,108.0 69.1,108.0 70.2,107.3 70.0,109.5 68.3,112.0 67.3,112.5 66.6,110.8ZM64.5,101.6 66.4,101.3 66.2,103.6 65.4,104.8 64.7,104.1ZM56.4,114.3 57.6,113.8 59.9,111.0 61.9,108.8 62.6,106.8 61.5,107.8 59.6,110.3 57.4,112.8ZM39.6,131.7 40.8,130.4 42.5,131.1 43.8,129.4 44.6,128.4 47.3,127.4 48.9,125.4 50.3,123.8 51.9,122.8 52.6,121.6 53.9,119.8 55.2,118.1 56.0,118.8 56.8,120.6 59.3,122.1 57.7,123.1 57.0,124.3 56.2,125.6 56.3,127.4 56.6,129.6 56.3,130.9 58.1,132.9 56.6,133.9 55.5,135.4 55.3,137.7 54.2,139.2 53.9,141.2 53.5,143.8 52.8,144.8 50.4,145.8 50.2,144.3 48.2,143.5 47.1,144.0 44.8,143.0 43.9,143.0 42.0,142.7 41.7,140.5 41.5,138.5 40.4,137.2 39.8,135.4 39.4,133.9ZM14.7,121.3 16.1,122.1 18.7,122.3 20.0,124.6 21.5,127.1 23.4,129.6 25.3,130.1 26.5,132.2 28.4,133.4 29.9,135.2 29.7,137.5 31.0,138.2 31.5,140.5 33.2,142.0 34.2,143.5 34.2,146.3 34.4,150.0 32.9,150.3 31.9,149.8 30.1,148.0 28.0,145.8 26.0,143.2 24.6,141.0 23.3,138.0 22.2,135.4 21.1,133.2 20.2,130.9 19.1,129.6 18.1,128.4 17.1,126.1 16.1,124.6 14.9,123.1ZM33.5,152.6 34.9,150.3 36.7,150.5 38.0,151.0 39.6,151.8 41.5,152.6 43.4,152.8 44.7,152.1 47.4,152.8 49.5,154.8 51.2,155.1 51.3,157.1 49.1,156.3 46.7,156.3 44.4,156.1 42.5,155.3 40.3,154.8 38.1,154.6 36.1,154.1 34.1,152.8ZM51.3,155.8 52.6,155.8 54.1,156.3 55.2,156.1 55.3,157.8 53.6,157.6 52.4,156.8ZM55.7,156.6 57.1,156.1 58.4,156.3 59.8,156.6 59.5,157.6 57.7,158.1 56.2,157.8ZM61.3,156.6 63.1,156.3 65.3,156.6 67.1,156.1 66.9,157.1 64.6,157.8 62.1,157.6ZM60.1,159.1 62.0,159.1 63.7,160.3 62.7,161.3 60.5,160.1ZM68.8,161.3 70.2,159.3 71.7,158.1 73.4,156.8 75.2,156.6 74.1,157.8 72.1,159.3 70.5,161.1ZM59.7,149.5 59.8,146.8 59.7,144.3 58.3,142.7 58.6,141.0 59.3,138.5 59.8,136.2 60.4,133.9 61.9,132.2 63.9,132.9 66.2,133.2 68.1,133.2 69.2,131.7 70.0,131.4 69.0,133.4 67.7,134.2 65.8,134.2 63.6,134.2 61.9,134.4 60.8,136.7 61.3,138.5 63.0,138.0 64.7,137.5 66.6,137.7 65.5,138.7 64.5,139.5 62.7,140.2 63.7,142.0 64.9,143.8 65.4,145.8 66.4,147.3 65.5,149.3 64.4,147.5 63.6,146.3 62.7,146.8 62.1,144.5 62.4,142.5 61.1,142.7 61.2,145.3 61.5,149.3 60.5,149.5ZM74.3,130.9 75.6,131.7 75.2,133.4 76.5,134.4 75.3,135.4 75.9,137.5 75.0,136.4 74.4,133.9ZM75.4,143.5 78.1,142.5 80.6,144.0 79.1,144.5 76.3,144.5ZM71.6,143.5 73.3,143.2 73.9,144.5 72.5,145.3ZM80.6,138.7 81.7,137.7 83.4,136.4 85.6,137.2 86.6,138.0 87.0,140.7 88.5,143.8 89.7,143.0 91.0,141.2 92.6,139.5 94.5,139.7 96.0,140.7 98.3,141.5 100.0,142.0 102.5,143.5 104.8,144.5 106.5,145.3 108.1,146.8 109.1,149.0 111.1,150.5 112.5,151.3 113.2,152.6 112.2,154.3 113.9,155.8 115.1,158.3 116.4,158.8 117.6,160.8 119.6,161.8 118.2,162.3 116.8,161.3 114.7,161.1 113.0,159.6 111.3,157.6 109.9,155.6 108.0,155.1 106.5,154.6 105.5,156.3 105.0,158.1 103.8,158.8 102.1,158.6 100.9,158.3 99.0,156.3 97.3,155.6 96.4,156.3 94.8,156.6 95.2,154.3 96.1,153.1 95.3,151.3 94.0,149.0 92.2,147.8 89.5,146.5 87.8,145.5 85.9,145.0 84.6,145.5 83.6,144.0 84.5,142.7 83.0,142.2 81.6,141.0 80.6,140.0ZM113.7,149.5 115.5,149.5 117.2,149.0 118.6,148.0 119.4,146.3 120.5,146.0 121.0,147.8 119.6,149.5 117.7,151.3 115.1,151.0ZM117.9,142.0 119.8,143.2 121.4,145.3 122.3,147.0 121.5,146.5 119.9,144.5ZM125.3,148.3 126.9,149.5 128.0,152.1 126.9,152.1 125.8,149.8ZM135.6,158.8 137.3,159.1 138.0,160.1 136.3,160.1ZM137.2,156.6 138.5,157.8 139.2,159.6 138.4,159.1 137.7,157.8ZM58.3,190.2 59.9,193.3 61.1,196.0 61.2,197.9 63.2,200.3 65.0,202.9 67.1,205.7 69.1,208.3 70.5,210.6 72.6,212.9 74.2,215.0 75.1,216.9 74.4,217.5 75.2,219.1 77.6,220.3 80.1,220.7 81.5,220.5 82.6,219.4 83.1,218.2 84.8,218.0 87.2,218.5 89.3,218.2 89.3,216.2 90.5,215.5 92.0,214.3 94.4,214.1 96.0,213.2 98.2,212.9 99.6,212.7 101.9,213.9 104.1,214.3 106.2,215.7 107.5,216.6 109.5,218.5 111.1,220.3 111.2,219.1 111.5,218.0 112.0,216.6 112.3,215.2 113.4,217.1 113.5,218.9 113.5,220.3 114.9,220.9 115.5,220.0 116.4,221.2 117.2,222.1 118.6,222.3 120.0,223.7 121.4,225.7 122.9,227.0 124.4,227.7 125.9,228.1 127.5,228.3 129.5,229.2 130.4,227.9 131.6,228.5 132.8,228.8 134.0,229.2 134.7,229.9 135.3,228.1 136.3,227.0 138.3,227.0 138.7,226.3 137.8,224.1 137.2,222.1 137.3,220.7 137.1,218.7 136.7,216.4 137.1,214.6 137.0,212.7 136.6,210.6 135.8,208.1 135.9,205.9 134.6,203.3 133.1,200.7 132.0,198.1 130.5,196.7 128.5,195.0 126.5,192.6 125.4,191.4 123.8,190.9 122.4,188.5 120.9,186.8 118.4,185.1 115.7,183.1 114.5,181.2 113.7,178.7 112.3,176.5 111.5,174.0 109.9,171.5 108.1,170.5 107.0,167.8 105.9,165.3 104.3,162.3 103.8,164.1 103.7,166.8 103.8,169.6 104.2,172.3 104.6,175.2 104.4,178.0 103.5,179.7 102.0,178.9 100.4,177.7 98.7,176.5 96.9,175.0 95.5,173.8 93.4,172.5 92.9,171.0 93.5,169.6 94.3,168.1 94.6,166.6 93.7,165.6 92.5,166.1 90.7,165.3 88.2,164.8 86.2,164.1 84.8,163.8 86.3,165.6 84.5,166.1 83.0,166.8 82.7,168.3 82.0,169.6 82.0,172.0 81.2,173.3 80.0,172.8 78.5,171.0 76.8,170.3 75.5,170.8 74.6,171.8 74.0,173.0 73.2,174.5 73.1,176.2 72.5,177.5 71.3,177.0 71.1,178.5 70.9,180.2 70.5,181.9 69.9,183.6 68.5,184.8 66.9,185.3 65.5,186.0 64.3,187.0 62.8,186.8 61.7,187.8 61.1,189.0 60.1,189.7 59.5,190.2 59.0,189.7ZM134.0,233.4 135.7,233.8 137.6,234.2 139.0,233.8 140.2,233.8 141.5,235.9 142.2,237.9 141.9,238.5 141.5,239.6 139.9,239.3 137.7,237.4 136.1,235.7 134.6,234.4ZM174.2,219.4 175.7,220.5 178.0,222.1 179.6,223.9 180.9,224.3 182.4,226.3 184.7,227.2 186.1,226.6 187.0,226.8 187.5,228.8 187.4,230.1 186.2,230.7 186.4,232.1 186.1,233.6 185.4,235.3 184.3,234.7 184.3,233.4 183.1,231.6 180.6,230.3 181.0,229.2 180.7,227.4 180.0,225.7 178.4,223.9 176.4,221.9ZM180.0,232.9 181.5,234.0 182.6,233.8 183.7,235.1 183.7,236.6 183.4,238.3 183.4,239.6 182.5,240.2 181.7,241.2 182.0,243.1 182.5,244.4 181.8,245.6 180.5,245.8 178.4,245.2 176.2,244.6 175.7,243.1 176.0,241.7 176.8,240.4 177.7,239.3 178.7,238.3 179.3,237.2 179.3,235.5 179.4,233.8ZM148.3,185.6 150.5,187.0 153.4,189.2 155.1,190.9 154.2,190.9 151.6,189.2 149.4,187.0ZM171.3,179.2 172.8,178.7 173.8,179.9 173.2,180.9 171.7,180.7ZM173.4,177.0 175.5,176.2 175.0,177.5 174.0,178.0ZM150.4,172.3 151.7,173.5 151.7,174.5 150.9,174.3ZM152.1,175.5 153.4,176.5 153.1,177.0 152.2,176.2ZM154.6,179.2 155.4,179.4 155.2,180.2ZM221.2,85.1 222.7,86.3 223.0,86.8 221.3,88.2 220.8,87.8ZM220.0,83.1 221.2,83.6 220.4,84.1ZM217.4,81.7 218.3,82.4 217.6,82.4ZM214.9,80.2 215.8,80.4 215.1,80.9ZM384.7,254.9 387.3,255.1 389.7,255.3 389.9,255.9 388.4,257.1 386.8,256.9 385.5,256.3ZM605.9,103.8 608.1,103.6 607.8,104.6 606.5,104.6ZM582.1,149.8 582.6,150.8 582.5,151.6 582.2,151.0ZM337.9,136.2 338.6,136.7 339.0,138.0 338.3,137.7ZM469.7,65.4 470.9,64.9 470.8,66.1ZM420.0,260.6 420.9,260.8 420.3,261.2ZM587.6,250.8 589.5,250.0 590.3,250.6 589.8,251.4 588.1,252.0 587.3,251.8ZM13.4,101.3 13.8,102.3 12.9,105.3 12.1,106.5 12.5,104.1ZM120.2,143.0 120.4,143.2 120.2,143.5ZM276.8,10.2 278.7,10.6 278.8,12.7 278.7,14.0 277.8,13.6 276.8,12.3 276.4,11.2ZM274.2,3.1 276.3,3.1 276.3,5.2 276.6,7.0 277.3,8.4 278.5,8.8 278.3,6.6 277.0,4.3 275.3,3.4ZM247.2,4.6 249.9,3.4 251.1,4.1 248.8,5.3 247.1,5.9Z" fill="#fff" stroke="#bdbdbd" stroke-width="0.3" stroke-linejoin="round"/><path d="M337.6,24.9 340.1,25.1 342.5,24.3 344.7,24.7 346.4,25.3 348.8,24.7 349.4,25.3 348.9,23.5 347.1,21.4 344.1,20.6 341.8,22.0 340.1,23.0ZM344.3,35.4 345.8,35.4 346.8,34.1 346.9,31.5 346.5,29.4 347.9,28.2 348.8,26.7 346.8,26.5 344.9,27.1 344.6,29.0 344.3,31.5ZM349.3,26.3 351.1,25.9 354.1,26.1 356.0,26.5 357.3,28.8 355.7,29.2 354.2,29.0 354.5,31.9 353.2,32.6 352.8,30.7 351.5,29.8 351.6,28.4 350.0,27.1ZM351.7,35.4 354.0,35.8 356.4,34.9 358.8,33.6 358.9,32.8 356.7,33.4 354.1,34.1 352.2,34.5ZM357.4,31.9 359.5,31.7 362.3,31.9 363.2,30.9 362.0,30.1 360.3,30.5 358.0,31.1ZM329.8,17.5 330.9,16.3 330.3,14.4 328.1,12.1 327.3,11.4 328.8,13.4 329.6,15.9ZM536.7,36.4 538.9,36.4 540.9,36.4 542.4,34.9 545.2,34.7 547.6,35.4 550.9,36.7 553.5,36.9 555.9,36.9 556.9,35.6 555.5,33.4 552.1,31.7 548.9,30.1 546.3,29.0 544.7,28.0 544.1,28.2 543.3,27.6 544.0,26.5 544.4,25.3 544.9,24.1 543.5,24.1 542.0,24.5 540.6,25.3 539.8,25.9 541.4,27.6 543.5,28.0 542.3,28.6 541.7,29.4 539.7,29.4 537.5,28.0 538.0,26.7 535.8,26.1 533.1,25.1 532.2,25.3 532.0,27.1 532.8,28.6 532.3,30.1 533.1,31.7 532.8,32.6 533.7,34.3 535.4,35.6ZM560.1,27.8 562.7,30.1 564.5,32.6 567.8,34.9 570.6,37.1 573.0,38.2 572.2,39.0 572.7,41.0 573.7,42.8 574.8,44.3 577.3,45.2 579.9,46.3 582.6,46.1 584.0,45.9 583.3,44.8 582.0,43.0 579.9,41.0 578.8,39.9 578.7,39.0 577.0,37.9 576.1,36.4 576.8,35.4 576.2,34.1 574.5,34.1 573.1,33.2 570.4,31.9 568.6,29.8 566.5,29.2 566.8,27.6 569.7,27.8 567.7,25.1 565.0,24.3 563.0,25.3 561.7,25.3 561.4,26.3 560.3,26.9ZM575.6,24.7 577.4,25.5 580.1,26.7 580.5,28.4 580.7,30.1 578.6,28.4 576.5,26.3ZM601.4,25.7 603.2,25.1 605.6,25.1 609.2,25.5 608.9,25.9 605.8,26.1 603.8,26.5ZM87.7,15.2 89.0,15.3 93.1,13.6 97.0,12.1 102.1,9.9 105.4,7.5 105.4,7.1 102.7,8.8 97.9,11.0 95.1,12.1 90.8,14.0ZM568.4,137.7 569.4,134.4 571.6,134.2 573.3,135.2 573.7,137.2 572.5,139.0 572.8,141.0 570.7,142.2 568.7,140.7ZM563.6,144.0 564.1,143.8 564.4,146.8 565.6,150.5 566.6,154.3 565.3,157.3 564.8,156.6 564.4,153.6 563.5,150.8 563.4,147.0ZM571.4,159.3 572.3,159.6 572.4,164.3 572.2,169.3 570.9,171.5 570.6,169.1 570.9,165.6 571.0,162.6ZM510.0,-0.0 511.7,-0.5 512.3,-1.7 510.7,-2.6 508.9,-2.5 508.7,-1.3ZM377.9,173.5 379.1,174.3 380.2,176.0 379.2,176.5 378.0,174.8ZM532.7,102.6 533.8,101.3 534.6,102.8 533.8,103.8ZM374.5,108.0 375.2,108.0 376.0,109.3 376.0,111.5 375.1,112.5 374.1,111.3 374.5,109.3ZM356.8,68.2 357.5,68.7 357.4,69.4 356.8,69.2Z" fill="#afcae7"/><path d="M289.1,20.2 309.8,20.2 332.8,20.2 332.8,19.4 333.7,20.8 336.2,21.0 338.5,22.0 341.5,22.2M353.1,33.9 353.2,32.6M358.7,32.2 358.8,32.8M365.4,28.4 370.5,28.4 371.4,27.8 372.3,26.5 372.6,24.9 373.6,23.5 375.2,23.7 376.0,24.3 376.3,26.9 377.0,27.1 377.6,28.2M269.0,-0.0 272.0,-0.5 273.4,1.3 276.6,0.3 278.6,2.5 280.4,6.1 282.2,7.1 281.7,8.8M269.0,-0.0 276.1,-14.8M294.0,55.9 298.2,55.4 304.3,58.6 309.2,58.6 309.3,57.5 312.2,57.5 315.5,62.6 318.0,64.0 319.2,62.1 320.9,62.1 323.2,65.9 324.1,67.5 327.5,71.3M336.8,99.1 336.8,97.4 337.8,95.1 340.1,95.1 340.1,90.9 342.4,90.9 342.4,90.6 344.0,89.2M342.4,90.9 342.3,95.6 344.2,96.1M342.3,95.6 342.4,98.8 342.1,99.3 340.7,100.9M342.1,99.3 343.6,100.6 344.9,102.1M345.9,103.1 347.0,102.1 348.8,100.3 350.6,98.3 353.4,97.8M348.9,107.5 351.6,108.3 352.7,108.0M352.8,111.3 354.1,112.5 354.1,115.1M363.4,117.3 364.7,115.6 364.3,113.5M374.2,105.3 373.7,107.5 372.6,109.3 371.9,112.3 373.5,115.3 373.7,116.8 376.3,117.8 378.0,118.1 379.3,120.1 382.9,119.8 382.4,124.1 383.3,126.9 382.4,128.4 383.5,130.4 384.1,132.4M384.1,132.4 379.2,132.7 378.7,133.9 378.3,135.9 379.4,138.2 378.4,146.0M378.4,146.0 376.6,144.8 372.9,141.5 371.6,138.7 368.6,135.7M368.6,135.7 365.2,134.4 361.8,131.9M368.6,135.7 367.8,139.2 362.8,143.8 361.4,147.8 359.0,144.0M384.1,132.4 386.9,133.4 389.1,131.7 389.5,129.4 390.6,129.9 391.7,125.9 395.6,124.9 395.6,122.3M395.6,122.3 394.3,120.4 395.3,118.3 396.7,114.0M395.6,122.3 397.3,124.9 397.7,125.9 397.4,129.9 399.3,132.2 403.5,130.6M403.5,130.6 402.2,126.6 402.3,120.6M403.5,130.6 407.5,129.9M407.5,129.9 408.2,126.4 408.1,121.1M407.5,129.9 410.3,129.9 412.6,125.1M378.4,146.0 372.8,148.5 370.9,154.3 372.7,158.1 376.9,159.3 376.9,163.1 378.7,163.1M378.7,163.1 380.3,166.8 379.6,170.5 378.8,173.8 379.4,176.2 378.2,178.7 378.4,179.2M378.4,179.2 376.7,181.3M378.4,179.2 380.1,182.9 379.5,186.5 380.3,188.5 381.9,192.1M378.7,163.1 380.4,163.1 384.9,160.1 386.7,162.3 387.2,165.6 393.5,169.3 395.3,170.0 395.7,173.5 399.1,176.2 398.7,178.7 399.7,180.4 398.7,184.8M398.7,184.8 397.1,183.6 392.4,184.3 390.3,190.7M390.3,190.7 387.0,192.1 385.6,190.4 383.7,189.7 381.9,192.1M381.9,192.1 380.5,195.7 379.1,200.5 376.6,205.7 375.8,210.2 375.2,216.2 375.2,218.9 373.8,223.0 372.6,227.4 371.2,231.8 370.5,236.2 370.6,240.4 369.9,244.6 368.5,248.4 366.6,251.2 367.5,253.8 367.9,255.5 368.4,256.5 371.9,256.9M373.2,257.6 372.5,261.9M390.3,190.7 392.9,194.5 395.4,196.7 398.7,198.4 396.5,202.9 400.5,203.3 404.0,198.8M398.7,184.8 399.0,190.4 402.6,190.9 403.0,194.8 404.9,195.0 404.0,198.8M404.0,198.8 405.5,200.0 405.0,202.4 401.6,204.8 397.5,209.7M397.5,209.7 395.9,214.8 395.1,218.2M397.5,209.7 400.1,211.3 401.5,212.0 403.8,215.0 403.8,217.8M491.6,49.9 491.9,51.3 493.0,54.0 492.4,56.5 490.9,57.7 491.3,59.6 489.1,62.8 484.0,64.7 484.9,68.0M476.7,67.0 484.6,67.0M484.9,68.0 485.6,71.1 479.7,71.1 481.0,77.1 479.5,78.3 480.2,82.4 473.0,82.4M484.9,68.0 493.1,73.5 495.9,94.4 489.3,96.6 485.2,96.6 484.2,98.6M484.2,98.6 479.7,93.9 475.8,95.1M493.1,73.5 506.1,83.1 512.5,87.8M512.5,87.8 515.6,86.8 524.1,77.1M524.1,77.1 519.9,74.7 518.4,69.9 515.0,61.6 514.9,61.2M514.9,61.2 510.7,55.9 509.3,51.3 508.3,49.0 507.5,45.9M514.9,61.2 515.0,58.2 515.9,54.5M540.7,57.9 548.5,80.7M548.5,80.7 548.0,85.6 548.3,86.8M548.3,86.8 529.5,77.1 524.1,77.1M548.5,80.7 570.0,80.7M512.5,87.8 513.7,94.4 513.0,96.6 508.8,97.1 506.9,98.1M506.9,98.1 505.2,97.6 503.1,99.8 501.3,101.6 499.0,103.8 498.0,107.5M506.9,98.1 508.8,101.8 511.2,103.8 512.0,105.5M512.0,105.5 514.3,106.0 514.5,101.6 519.1,101.6 522.2,102.8 525.8,102.1 529.6,101.8 532.1,101.1M529.5,77.1 533.1,84.6 533.9,91.7 531.8,100.3M548.3,86.8 550.2,96.1 548.6,100.3 549.0,103.8 550.3,107.5 550.3,108.0M550.3,108.0 548.2,108.8 543.6,112.8 540.2,115.8 537.5,116.6M533.5,102.8 534.6,105.3 535.9,110.3 534.1,110.5 537.5,116.6M533.7,104.1 533.3,109.8 532.4,112.3 531.1,114.3 530.3,118.1 528.5,117.8 526.7,119.8 525.1,123.3M514.3,106.0 514.7,109.5 513.3,112.8 513.8,119.6M509.5,107.8 511.3,112.8 511.8,119.8M507.6,107.5 509.5,113.8 509.6,118.1 511.1,120.1M502.6,108.0 503.0,111.8 503.8,115.1 502.8,119.6 503.2,122.6M502.6,108.0 507.6,107.5M498.0,107.5 496.5,109.8 493.9,109.3 492.8,110.0M492.8,110.0 493.5,114.0 492.7,116.3 495.0,122.3 495.0,124.3M492.7,116.3 489.4,114.0 488.3,112.0 487.3,110.3 485.1,110.5 483.5,112.5M489.4,114.0 487.3,118.1M492.8,110.0 492.1,106.8 490.4,104.3 486.3,104.3 484.5,104.6 482.0,103.6 480.2,107.8 480.0,108.0M482.0,103.6 476.5,104.3M484.2,98.6 486.3,104.3M476.0,101.6 481.6,101.6 481.7,102.6 476.3,102.6M551.7,110.3 558.4,111.5 563.9,110.8 566.8,105.3 568.6,104.8 571.2,110.3M571.2,110.3 574.0,104.1 574.1,99.6 575.9,90.7 575.9,90.4M574.1,99.6 575.9,99.6 577.5,99.3 580.4,99.1 583.7,101.6 585.8,104.1M585.8,104.1 587.0,106.5 587.9,107.8M587.4,107.8 590.2,112.8 597.7,115.3 592.9,122.8 590.3,123.3 587.4,125.6M587.4,125.6 585.9,128.4 586.0,137.5 586.9,139.7M587.4,125.6 583.2,126.6 580.2,126.4 576.1,123.8 574.9,121.8M574.9,121.8 573.9,118.8 570.2,114.3 571.2,110.3M574.9,121.8 572.6,124.9 571.7,125.9 568.8,126.4 566.7,126.6 564.2,123.8 560.2,122.6 556.2,122.6 553.9,114.5 552.1,113.5 550.3,108.0M560.2,122.6 555.7,122.8 551.0,125.1 547.4,124.3 543.7,126.4M543.7,126.4 539.5,129.9 538.1,126.4 536.1,123.6 536.1,119.8 537.5,116.6M539.5,129.9 533.9,129.9 530.4,129.9 527.6,129.6M530.4,129.9 530.4,132.9 526.9,132.9M533.9,129.9 535.3,131.9 536.4,136.9 534.5,141.5 531.7,141.7 529.9,145.3M543.7,126.4 542.4,136.7 539.6,140.5 537.7,146.3 533.7,147.5 531.8,148.0M531.6,150.5 533.1,150.3 539.3,150.3 539.6,153.6 541.1,155.8 544.6,155.6 549.3,153.8 548.9,159.3 549.0,163.3 552.3,163.1 551.6,168.1M552.3,163.1 554.7,163.6 558.0,164.6 559.8,166.3 561.8,168.8 562.6,166.1 560.7,162.8 561.8,156.8 565.6,156.1M566.7,126.6 567.6,129.9 565.4,132.9 564.7,137.2 563.9,139.2 563.4,142.5 563.8,143.8 564.0,146.8 565.5,151.8 565.6,156.1M572.6,124.9 574.7,130.4 572.9,132.9 572.9,138.0M572.9,138.0 579.6,144.8 582.3,147.3M564.7,138.0 572.9,138.0M563.5,138.7 566.3,138.2 566.8,141.5 566.1,141.5 566.7,143.8 565.3,146.5 563.8,146.5M565.6,156.1 569.4,159.1 571.2,159.3M572.4,164.3 577.1,164.6 582.9,161.8M570.1,159.6 569.5,162.1 569.9,165.6 567.9,170.0 567.6,170.5M572.4,164.3 571.8,171.5 571.8,176.2 570.3,178.0 569.2,176.0 568.1,170.5 567.6,170.5M567.6,170.5 562.2,174.5M562.2,174.5 558.8,176.7 554.7,180.2 551.7,179.9M551.6,168.1 547.9,168.1 546.5,176.0 548.0,179.2 551.7,179.9M527.2,178.7 530.0,178.5 531.6,178.9 539.5,178.9 543.7,180.4 548.0,179.2M543.7,180.4 541.3,190.2 539.5,190.2 537.6,196.9M537.6,196.9 534.7,205.7 528.4,205.9M551.7,179.9 552.4,182.4 553.5,186.5 554.2,189.2 556.4,190.4M556.4,190.4 551.0,194.0 548.1,196.9 546.0,199.1 542.2,198.6 537.4,201.9 537.6,196.9M562.2,174.5 566.2,177.2 565.5,180.4 564.0,184.8 562.6,188.5 559.6,191.1M556.4,190.4 559.6,191.1M559.6,191.1 559.4,196.0 558.1,199.6 558.9,201.9M546.0,208.3 549.6,205.9 550.3,208.1 548.7,209.9 546.4,210.4 546.0,208.3M557.0,58.6 560.0,62.8M557.4,54.2 558.0,52.0 556.5,51.1M555.1,48.3 554.9,46.1 557.3,46.1 561.3,45.4 564.3,45.4M560.0,62.8 559.0,58.2 557.9,55.4 560.4,56.3 562.7,53.8 564.8,56.8 561.6,58.2 564.4,60.5 564.0,63.5 560.1,63.0M564.3,45.4 565.6,51.5 562.7,53.8M564.8,56.8 570.7,59.1 577.5,63.5 580.8,63.8 583.5,65.2 584.7,65.2M580.8,63.8 581.8,61.4 582.4,61.6M583.4,61.9 580.3,58.4 578.7,56.1 575.5,54.7 573.3,52.4 571.9,48.3 568.8,45.7 568.2,45.2M564.3,45.4 568.2,45.2M568.2,45.2 566.2,43.4 564.6,40.1 564.9,39.7M564.9,39.7 562.2,38.8 560.9,36.7 558.7,36.0 557.1,35.8M551.7,31.7 555.3,32.2 559.3,33.2 562.3,33.6 564.5,34.9 568.1,35.1M564.9,39.7 567.3,40.6 568.8,41.4 572.0,42.5 573.5,42.5M584.7,93.6 587.0,91.9 590.6,92.4 592.8,92.9 594.5,89.0 599.7,88.0 603.3,93.9M599.7,88.0 605.5,85.6 602.5,79.0 597.6,78.5 594.7,75.4M602.5,79.0 602.6,75.9 602.6,73.7M592.8,74.2 593.6,74.4M598.2,48.8 599.3,51.7 600.6,54.5 602.5,57.0 604.0,60.0 605.6,59.8 605.2,62.1 608.5,63.0 609.8,62.8 610.1,65.9 609.8,68.2 613.0,69.4 611.6,73.0M583.4,45.0 584.3,43.4 587.9,43.0 592.3,44.5 595.4,46.5 596.8,46.5 598.2,48.8M605.2,62.1 611.0,62.8 614.6,61.9 613.9,58.6 617.2,57.2 616.0,53.1 617.1,52.0 615.3,47.9 617.1,45.9 619.3,45.7M598.2,48.8 600.4,49.2 602.8,47.2 604.5,44.8 607.7,45.7 610.3,44.5 612.2,43.7 618.7,44.8M624.9,76.6 626.8,75.1 629.2,74.9 626.6,71.8 623.7,66.6 626.9,66.6 627.0,61.9 627.5,59.1 625.1,55.4 627.0,55.9 628.2,54.0 626.6,49.0M13.6,49.0 13.9,52.4 10.0,55.9 8.9,58.6 9.0,61.2 10.5,61.2 12.6,61.2 14.1,63.3 15.4,64.9 17.4,66.6 19.6,66.6 20.0,68.0 22.4,65.9 25.7,66.6 26.5,66.8 29.4,67.0 33.9,64.0 35.8,63.0 36.3,65.6 36.0,66.6M626.6,49.0 631.8,52.4 632.7,55.9 635.3,58.6 638.5,61.2 640.1,61.2 642.2,61.2 646.2,63.3 649.4,64.9 653.4,66.6 655.5,66.6 657.5,68.0 657.6,65.9 661.7,66.6 662.7,66.8 665.8,67.0 666.8,64.0 667.7,63.0 671.2,65.6 671.9,66.6M640.2,64.5 643.2,65.4 647.1,67.8 650.1,68.0 653.4,69.7 657.3,69.9 655.5,66.6M20.0,68.0 21.0,69.4 25.3,68.9 26.5,66.8M657.5,68.0 660.1,69.4 663.9,68.9 662.7,66.8M15.0,74.7 18.7,70.4 20.1,71.1 19.2,72.8 23.3,73.2 22.6,75.4 21.7,75.4 19.4,78.3 21.6,76.6 20.7,80.7M659.5,74.7 658.8,70.4 660.9,71.1 661.8,72.8 666.3,73.2 667.8,75.4 666.9,75.4 667.4,78.3 668.0,76.6 670.8,80.7M659.5,74.7 662.2,77.6 664.3,81.4M20.7,80.7 23.8,76.1 25.3,76.1 27.7,73.0 30.4,69.7 32.9,68.0 36.0,66.6M36.0,66.6 37.1,67.5 35.8,71.3 31.8,75.6 33.8,75.6 33.2,80.2 35.5,82.1M35.5,82.1 32.5,84.6 29.8,86.0 26.7,89.0 26.9,94.4 24.7,97.6 25.3,102.3 22.8,109.3M35.5,82.1 37.5,79.7 39.1,79.0 41.2,78.8 44.8,77.6 46.8,78.8 47.9,81.9M38.1,79.7 38.3,83.1 40.1,83.6 40.4,85.3 39.0,86.8 40.3,88.7 41.6,92.2 42.3,96.6 41.4,99.1M32.5,84.6 33.7,86.8 30.9,91.7 33.8,90.7 36.6,89.5 38.3,91.9 38.5,96.4 37.4,99.6M31.3,106.0 31.1,103.6 32.4,100.6 34.7,99.6 37.4,99.6 39.7,98.8 41.4,99.1M41.4,99.1 40.1,104.6 37.8,106.0 36.5,107.8 33.6,109.3M23.9,119.1 25.7,119.8 27.6,119.8M99.2,39.0 104.2,36.0 107.8,35.8 108.9,34.7 111.8,33.9 113.2,33.9M113.2,33.9 115.8,31.7 118.3,28.6 121.5,28.0 129.2,21.6 122.4,22.8 123.8,20.4 120.6,18.7 123.8,12.9 121.3,11.5 117.2,11.9 112.6,14.8 105.1,19.2 103.9,18.7M103.9,18.7 98.8,22.0 99.0,25.1 102.8,24.9 98.5,28.6 95.4,29.4 89.5,29.0 85.0,31.1 82.2,33.4 78.5,33.9 70.0,35.6 65.1,33.6 57.8,33.2 59.3,29.8 57.8,28.4 54.4,27.8 57.3,24.5 58.4,22.4 56.9,21.0 57.8,19.8M660.5,18.7 662.9,22.0 669.6,25.1 673.0,24.9 676.3,28.6 674.9,29.4 668.1,29.0 667.7,31.1 669.3,33.4 666.3,33.9 661.0,35.6 652.6,33.6 644.5,33.2 639.5,29.8 635.2,28.4 630.5,27.8 626.7,24.5 623.4,22.4 618.9,21.0 617.1,19.8M57.8,19.8 63.0,18.3 68.4,16.7 71.0,17.1 77.3,16.3 80.4,14.2 84.3,15.7 83.1,17.3 88.4,17.5 89.4,19.6 93.2,20.0 101.3,17.7 103.9,18.7M617.1,19.8 618.7,18.3 620.4,16.7 624.0,17.1 628.4,16.3 626.5,14.2 634.1,15.7 636.5,17.3 642.3,17.5 648.2,19.6 652.9,20.0 655.6,17.7 660.5,18.7M617.1,19.8 615.9,20.0 618.0,24.1 613.9,23.9 616.5,27.3 614.0,28.6 618.2,32.8 619.4,34.5M619.4,34.5 617.8,35.8 616.3,38.2 613.5,37.9 613.2,40.1 618.8,45.2 619.3,45.7M616.5,20.0 609.9,17.3 606.3,16.3 601.6,15.9 596.1,13.2 589.3,10.6 586.4,11.4 581.2,10.4 574.5,8.8 571.3,9.5 566.6,10.6 568.3,12.7 568.8,14.6 572.6,15.9 570.7,16.7 568.2,16.3 565.8,16.7 562.2,16.3 558.4,15.3 555.2,15.0 553.9,17.3 555.3,18.7 553.6,20.2 555.4,21.8 556.9,24.5 559.1,25.3 561.9,25.5M574.9,34.5 580.0,36.2 581.0,36.2 575.0,28.4 578.0,27.1 583.2,33.2 586.1,34.3 584.1,29.6 587.2,31.5 591.6,31.1 594.8,32.6 596.5,34.9 602.9,37.7 602.2,36.0 603.3,34.5 603.4,33.0 607.7,33.6 607.4,31.9 610.9,32.6 616.3,33.0 619.4,34.5M581.0,36.2 582.6,34.3 582.9,33.2M582.9,33.2 587.6,36.2 589.9,36.2 593.2,38.6 598.0,41.4 603.6,43.4 604.5,44.8M607.0,45.2 606.6,43.2 603.1,39.9 602.9,37.7M603.9,37.5 607.4,39.0 613.2,40.1M605.2,36.9 606.5,36.7 609.4,37.1 611.2,38.8 607.6,38.6M492.3,-13.5 498.2,-10.8 499.0,-9.4 503.3,-6.4 507.2,-4.7 506.1,-0.8M508.4,1.0 509.8,3.2 510.5,4.3M510.5,4.3 513.7,6.6M513.7,6.6 518.5,7.7 522.6,10.6 525.5,14.2 528.2,13.6 532.7,16.1 536.3,17.7 538.6,18.1 542.3,19.1 544.6,21.8 544.6,22.6 543.3,24.1M514.1,15.3 516.4,14.6 520.3,15.2 525.0,15.7 525.5,14.2M510.4,10.8 512.7,13.6 514.1,15.3M510.4,10.8 511.6,10.8 513.3,10.2 513.1,8.6 513.8,7.3 513.7,6.6M503.5,6.8 507.3,6.2 512.2,7.5M505.4,3.6 508.0,3.8 510.5,4.3M508.6,9.9 510.4,10.8M503.8,9.9 508.6,9.9 507.2,8.6 505.1,8.4M496.5,10.8 497.6,11.9 498.9,13.2 500.0,14.6 501.5,16.1M501.5,16.1 504.0,16.9 505.5,17.9 507.7,18.3 509.7,19.2 512.3,19.4 515.9,20.0M515.9,20.0 515.1,18.5 515.8,16.7 514.1,15.3M486.8,9.0 488.9,9.1M486.9,12.1 487.7,14.0 486.7,14.6 488.4,16.7M488.4,16.7 489.3,17.7 490.3,19.2 493.7,20.2 494.4,23.0M494.4,23.0 497.6,23.0 503.0,23.3 502.0,21.6 502.6,20.6 499.3,18.9 498.1,17.7 500.6,16.3 501.5,16.1M483.4,15.5 485.4,15.3 486.7,14.8 488.1,16.7M482.4,16.1 483.5,16.7 486.4,18.5 487.1,18.1 489.4,19.2 490.3,19.2M493.5,25.9 493.6,23.3 494.4,23.0M495.1,26.5 496.6,28.4 496.6,29.8 498.6,30.9M493.5,25.9 495.1,26.5 496.4,25.5 498.5,26.3 499.7,25.1 499.7,24.3M499.7,24.3 502.1,24.1 505.4,25.3M505.4,25.3 508.8,24.9 508.3,22.8 508.8,22.2 507.9,21.0 504.3,20.2 502.6,20.6M507.9,21.0 509.7,19.2M508.8,22.2 511.8,22.6 513.5,21.4 516.1,21.4 515.9,20.0M516.1,21.4 518.1,22.4 518.2,25.7 516.4,26.1 514.4,26.5 511.8,26.5 509.8,25.3 508.8,24.7M518.1,22.4 521.5,22.8 523.3,21.6 527.8,24.7 529.8,27.3 532.6,28.0M523.3,21.6 526.0,21.8 531.1,25.3 529.8,27.3M516.4,26.1 519.4,28.0 522.3,29.4 523.4,30.5 526.2,31.1 528.5,31.1 530.0,30.3 532.8,31.1M523.4,30.5 524.1,33.2 525.7,34.7 526.6,36.2 523.9,37.1 524.2,38.8 523.7,39.7M526.6,36.2 528.8,35.6 531.3,35.4 532.5,36.0 532.3,37.3M532.5,36.0 534.1,34.7M523.3,37.1 522.3,35.6 521.7,34.3 519.6,33.4 520.0,34.9M524.1,33.2 522.3,34.1 521.7,34.3M515.8,28.6 517.5,30.3 518.9,32.2 517.9,33.6M510.9,29.0 511.0,28.0 515.7,28.4M510.9,29.0 515.9,32.6 517.9,33.6M506.4,27.3 509.0,27.3 508.9,25.9 509.8,25.3M509.8,25.3 514.4,26.5 515.8,28.6M473.8,34.9 475.0,34.7 477.5,34.9 477.8,36.9 478.9,39.9 478.0,39.9 479.5,41.4 480.2,45.2M483.9,31.7 488.6,33.0 490.5,33.6 493.1,33.9M485.1,1.5 483.9,-1.7 482.5,-2.6 480.0,-5.6M492.3,-9.1 489.9,-10.8 482.5,-13.7M99.0,43.9 101.2,42.8 104.0,42.1M40.8,130.6 43.4,132.9 46.2,131.7 49.9,131.9 52.0,127.9 53.1,125.1 56.1,124.9M99.6,142.0 100.9,158.3M71.4,158.3 71.1,159.1" fill="none" stroke="#b4b4b4" stroke-width="0.4" stroke-linejoin="round"/><path d="M139.2,31.3 141.7,30.1 144.6,28.6 148.0,27.1 150.9,25.9 153.9,24.5 156.5,23.0 159.7,21.2 162.2,19.4 164.4,17.9 166.5,16.7M231.9,9.3 228.4,10.2 225.6,11.4 222.8,12.3 219.9,13.1 216.0,13.8 213.0,14.2 210.2,14.6 207.8,14.8 205.3,15.2 202.1,15.3 200.3,14.6 198.2,13.8 195.9,13.2 194.1,12.5M438.7,40.1 439.1,40.3M443.3,42.1 445.9,41.9M448.8,43.9 449.8,44.0M466.7,55.4 467.3,55.3M288.2,19.1 286.3,17.3 283.9,15.7 282.9,13.8 281.6,11.7 280.6,9.7 279.5,7.3 277.9,5.5 276.3,3.8 274.8,2.4" fill="none" stroke="#9ea4aa" stroke-width="0.55" stroke-dasharray="0.7 0.9"/></g>
</defs>
<rect width="685" height="352" fill="#fff"/>
<g clip-path="url(#cb)"><g clip-path="url(#ce)">
<rect width="685" height="352" fill="#afcae7"/>
<use href="#world"/>
</g><path d="M540.4,299.4 540.8,299.2 541.8,298.8 543.5,298.1 545.8,297.0 548.7,295.7 552.1,294.2 556.0,292.4 560.2,290.4 564.7,288.1 569.5,285.7 574.4,283.1 579.4,280.3 584.5,277.3 589.6,274.1 594.6,270.9 599.6,267.5 604.6,263.9 609.4,260.3 614.1,256.5 618.7,252.6 623.2,248.6 627.5,244.6 631.6,240.4 635.6,236.2 639.4,231.8 643.1,227.4 646.5,223.0 649.9,218.5 653.0,213.9 655.9,209.2 658.7,204.5 661.3,199.8 663.7,195.0 665.9,190.2 668.0,185.3 669.8,180.4 671.5,175.5 672.9,170.5 674.2,165.6 675.3,160.6 676.1,155.6 676.8,150.5 677.3,145.5 677.6,140.5 677.7,135.4 677.6,130.4 677.3,125.4 676.8,120.3 676.1,115.3 675.3,110.3 674.2,105.3 672.9,100.3 671.5,95.4 669.8,90.4 668.0,85.6 665.9,80.7 663.7,75.9 661.3,71.1 658.7,66.3 655.9,61.6 653.0,57.0 649.9,52.4 646.5,47.9 643.1,43.4 639.4,39.0 635.6,34.7 631.6,30.5 627.5,26.3 623.2,22.2 618.7,18.3 614.1,14.4 609.4,10.6 604.6,7.0 599.6,3.4 594.6,-0.0 589.6,-3.3 584.5,-6.4 579.4,-9.4 574.4,-12.2 569.5,-14.8 564.7,-17.3 560.2,-19.5 556.0,-21.5 552.1,-23.3 548.7,-24.9 545.8,-26.2 543.5,-27.2 541.8,-27.9 540.8,-28.4 540.4,-28.5 141.3,-28.5 141.0,-28.4 139.9,-27.9 138.2,-27.2 135.9,-26.2 133.0,-24.9 129.6,-23.3 125.8,-21.5 121.6,-19.5 117.0,-17.3 112.3,-14.8 107.4,-12.2 102.4,-9.4 97.3,-6.4 92.2,-3.3 87.1,-0.0 82.1,3.4 77.2,7.0 72.3,10.6 67.6,14.4 63.0,18.3 58.6,22.2 54.3,26.3 50.1,30.5 46.2,34.7 42.3,39.0 38.7,43.4 35.2,47.9 31.9,52.4 28.8,57.0 25.8,61.6 23.0,66.3 20.5,71.1 18.0,75.9 15.8,80.7 13.8,85.6 11.9,90.4 10.3,95.4 8.8,100.3 7.6,105.3 6.5,110.3 5.6,115.3 4.9,120.3 4.4,125.4 4.1,130.4 4.0,135.4 4.1,140.5 4.4,145.5 4.9,150.5 5.6,155.6 6.5,160.6 7.6,165.6 8.8,170.5 10.3,175.5 11.9,180.4 13.8,185.3 15.8,190.2 18.0,195.0 20.5,199.8 23.0,204.5 25.8,209.2 28.8,213.9 31.9,218.5 35.2,223.0 38.7,227.4 42.3,231.8 46.2,236.2 50.1,240.4 54.3,244.6 58.6,248.6 63.0,252.6 67.6,256.5 72.3,260.3 77.2,263.9 82.1,267.5 87.1,270.9 92.2,274.1 97.3,277.3 102.4,280.3 107.4,283.1 112.3,285.7 117.0,288.1 121.6,290.4 125.8,292.4 129.6,294.2 133.0,295.7 135.9,297.0 138.2,298.1 139.9,298.8 141.0,299.2 141.3,299.4Z" fill="none" stroke="#a8a8a8" stroke-width="0.5"/></g>
<rect x="261.5" y="47.9" width="171.9" height="146.2" fill="#fff" stroke="#48525c" stroke-width="0.9"/>
<g clip-path="url(#ci)"><rect x="264" y="50" width="170" height="142" fill="#afcae7"/><g transform="matrix(1.88048,0,0,1.88048,-342.722,-38.813)"><use href="#world"/></g></g>
<rect x="264.6" y="51.3" width="165.7" height="139.9" fill="none" stroke="#48525c" stroke-width="0.9"/>
<g stroke="#4a6078" stroke-width="0.75" fill="none"><polyline points="393,131.7 399.6,125.1"/><polyline points="399,142.7 409.3,142.7"/><polyline points="347.6,163.2 355.8,155.4 396,155.4"/></g>
<g stroke="#fff" stroke-width="0.7"><circle cx="67.0" cy="103.0" r="23.0" fill="#ee8c34"/><circle cx="29.8" cy="132.0" r="18.8" fill="#f8d47f"/><circle cx="88.6" cy="116.7" r="3.3" fill="#f8d47f"/><circle cx="118.5" cy="116.9" r="1.0" fill="#ee8c34" stroke-width="0.35"/><circle cx="156.6" cy="117.6" r="1.0" fill="#ee8c34" stroke-width="0.35"/><circle cx="215.0" cy="130.8" r="0.9" fill="#db2329" stroke-width="0.35"/><circle cx="106.0" cy="151.4" r="5.4" fill="#891a33"/><circle cx="136.8" cy="159.4" r="2.6" fill="#db2329"/><circle cx="151.6" cy="173.5" r="2.7" fill="#db2329"/><circle cx="173.0" cy="179.5" r="7.0" fill="#db2329"/><circle cx="189.4" cy="169.8" r="5.0" fill="#ee8c34"/><circle cx="186.7" cy="187.8" r="2.3" fill="#ee8c34" stroke-width="0.64"/><circle cx="463.7" cy="93.9" r="8.3" fill="#f8d47f"/><circle cx="518.0" cy="48.2" r="9.5" fill="#ee8c34"/><circle cx="521.5" cy="134.9" r="1.5" fill="#f8d47f" stroke-width="0.42"/><circle cx="590.6" cy="71.1" r="9.3" fill="#ee8c34"/><circle cx="659.0" cy="115.8" r="13.9" fill="#db2329"/><circle cx="645.8" cy="127.2" r="10.7" fill="#ee8c34"/><circle cx="612.3" cy="147.3" r="5.3" fill="#db2329"/><circle cx="582.1" cy="150.6" r="10.1" fill="#ee8c34"/><circle cx="587.7" cy="164.2" r="1.5" fill="#ee8c34" stroke-width="0.42"/><circle cx="590.6" cy="167.3" r="1.9" fill="#891a33" stroke-width="0.53"/><circle cx="588.8" cy="185.0" r="11.8" fill="#891a33"/><circle cx="610.8" cy="184.9" r="8.2" fill="#db2329"/><circle cx="605.2" cy="191.2" r="4.1" fill="#db2329"/><circle cx="380.1" cy="67.8" r="3.3" fill="#ee8c34"/><circle cx="338.9" cy="100.9" r="9.0" fill="#ee8c34"/><circle cx="339.8" cy="131.0" r="12.0" fill="#ee8c34"/><circle cx="328.0" cy="125.1" r="5.6" fill="#ee8c34"/><circle cx="365.4" cy="127.1" r="20.6" fill="#ee8c34"/><circle cx="359.1" cy="127.0" r="4.4" fill="#ee8c34"/><circle cx="391.6" cy="134.2" r="2.1" fill="#ee8c34" stroke-width="0.59"/><circle cx="396.4" cy="135.4" r="2.9" fill="#ee8c34"/><circle cx="396.9" cy="142.7" r="1.0" fill="#ee8c34" stroke-width="0.35"/><circle cx="395.4" cy="148.7" r="4.3" fill="#ee8c34"/><circle cx="404.2" cy="153.2" r="5.2" fill="#ee8c34"/><circle cx="397.9" cy="154.0" r="2.9" fill="#db2329"/><circle cx="394.6" cy="159.7" r="3.2" fill="#ee8c34"/><circle cx="400.5" cy="165.9" r="5.6" fill="#db2329"/></g>
<g class="halo"><text x="55" y="104.6" textLength="27.3" lengthAdjust="spacingAndGlyphs">Philippines</text><text x="18" y="134.7" textLength="25.3" lengthAdjust="spacingAndGlyphs">Singapore</text><text x="89.1" y="126.9" textLength="12.8" lengthAdjust="spacingAndGlyphs">Palau</text><text x="103.1" y="105.2" textLength="41.6" lengthAdjust="spacingAndGlyphs">Federated States</text><text x="107.5" y="112.7" textLength="32.5" lengthAdjust="spacingAndGlyphs">of Micronesia</text><text x="161" y="118.6" textLength="40" lengthAdjust="spacingAndGlyphs">Marshall Islands</text><text x="218.1" y="132.6" textLength="17.7" lengthAdjust="spacingAndGlyphs">Kiribati</text><text x="104.1" y="144.1" textLength="46.1" lengthAdjust="spacingAndGlyphs">Papua New Guinea</text><text x="140.9" y="158.7" textLength="40.2" lengthAdjust="spacingAndGlyphs">Solomon Islands</text><text x="132" y="182.9" textLength="20.4" lengthAdjust="spacingAndGlyphs">Vanuatu</text><text x="162.5" y="192.9" textLength="6.8" lengthAdjust="spacingAndGlyphs">Fiji</text><text x="195.1" y="176.7" textLength="17.2" lengthAdjust="spacingAndGlyphs">Samoa</text><text x="188.1" y="197.5" textLength="14.7" lengthAdjust="spacingAndGlyphs">Tonga</text><text x="446.1" y="109.7" textLength="28" lengthAdjust="spacingAndGlyphs">Cape Verde</text><text x="512.3" y="50.4" textLength="13.4" lengthAdjust="spacingAndGlyphs">Malta</text><text x="492.8" y="143.7" textLength="55.3" lengthAdjust="spacingAndGlyphs">Sao Tome and Principe</text><text x="581.1" y="87.1" textLength="18.9" lengthAdjust="spacingAndGlyphs">Bahrain</text><text x="630.4" y="101.7" textLength="22.9" lengthAdjust="spacingAndGlyphs">Sri Lanka</text><text x="651.8" y="142.6" textLength="22.2" lengthAdjust="spacingAndGlyphs">Maldives</text><text x="574.2" y="138.6" textLength="21.5" lengthAdjust="spacingAndGlyphs">Zanzibar</text><text x="619.1" y="151.7" textLength="27" lengthAdjust="spacingAndGlyphs">Seychelles</text><text x="563.3" y="166.8" textLength="21" lengthAdjust="spacingAndGlyphs">Comoros</text><text x="593.9" y="169.1" textLength="19.3" lengthAdjust="spacingAndGlyphs">Mayotte</text><text x="553.2" y="200.8" textLength="29.9" lengthAdjust="spacingAndGlyphs">Madagascar</text><text x="619.8" y="179.6" textLength="22.6" lengthAdjust="spacingAndGlyphs">Mauritius</text><text x="599" y="202.5" textLength="20.1" lengthAdjust="spacingAndGlyphs">Reunion</text><text x="377.1" y="62.6" textLength="21.8" lengthAdjust="spacingAndGlyphs">Bermuda</text><text x="334.9" y="88.9" textLength="22.2" lengthAdjust="spacingAndGlyphs">Bahamas</text><text x="365.6" y="104.7" textLength="48.8" lengthAdjust="spacingAndGlyphs">Dominican Republic</text><text x="350.9" y="120.8" textLength="10.8" lengthAdjust="spacingAndGlyphs">Haiti</text><text x="280.6" y="128.6" textLength="38.8" lengthAdjust="spacingAndGlyphs">Cayman Islands</text><text x="325.8" y="150.8" textLength="19.8" lengthAdjust="spacingAndGlyphs">Jamaica</text><text x="396" y="123.7" textLength="42.7" lengthAdjust="spacingAndGlyphs">St Kitts and Nevis</text><text x="401.9" y="137.4" textLength="51.1" lengthAdjust="spacingAndGlyphs">Antigua and Barbuda</text><text x="411.2" y="145.4" textLength="22.3" lengthAdjust="spacingAndGlyphs">Dominica</text><text x="370.4" y="153.7" textLength="19.3" lengthAdjust="spacingAndGlyphs">St Lucia</text><text x="411.2" y="156.2" textLength="23.5" lengthAdjust="spacingAndGlyphs">Barbados</text><text x="272.7" y="166.7" textLength="74.3" lengthAdjust="spacingAndGlyphs">St Vincent and the Grenadines</text><text x="369.8" y="163.6" textLength="19.8" lengthAdjust="spacingAndGlyphs">Grenada</text><text x="380.6" y="178.2" textLength="48.8" lengthAdjust="spacingAndGlyphs">Trinidad and Tobago</text></g>
<g class="lb"><text x="55" y="104.6" textLength="27.3" lengthAdjust="spacingAndGlyphs">Philippines</text><text x="18" y="134.7" textLength="25.3" lengthAdjust="spacingAndGlyphs">Singapore</text><text x="89.1" y="126.9" textLength="12.8" lengthAdjust="spacingAndGlyphs">Palau</text><text x="103.1" y="105.2" textLength="41.6" lengthAdjust="spacingAndGlyphs">Federated States</text><text x="107.5" y="112.7" textLength="32.5" lengthAdjust="spacingAndGlyphs">of Micronesia</text><text x="161" y="118.6" textLength="40" lengthAdjust="spacingAndGlyphs">Marshall Islands</text><text x="218.1" y="132.6" textLength="17.7" lengthAdjust="spacingAndGlyphs">Kiribati</text><text x="104.1" y="144.1" textLength="46.1" lengthAdjust="spacingAndGlyphs">Papua New Guinea</text><text x="140.9" y="158.7" textLength="40.2" lengthAdjust="spacingAndGlyphs">Solomon Islands</text><text x="132" y="182.9" textLength="20.4" lengthAdjust="spacingAndGlyphs">Vanuatu</text><text x="162.5" y="192.9" textLength="6.8" lengthAdjust="spacingAndGlyphs">Fiji</text><text x="195.1" y="176.7" textLength="17.2" lengthAdjust="spacingAndGlyphs">Samoa</text><text x="188.1" y="197.5" textLength="14.7" lengthAdjust="spacingAndGlyphs">Tonga</text><text x="446.1" y="109.7" textLength="28" lengthAdjust="spacingAndGlyphs">Cape Verde</text><text x="512.3" y="50.4" textLength="13.4" lengthAdjust="spacingAndGlyphs">Malta</text><text x="492.8" y="143.7" textLength="55.3" lengthAdjust="spacingAndGlyphs">Sao Tome and Principe</text><text x="581.1" y="87.1" textLength="18.9" lengthAdjust="spacingAndGlyphs">Bahrain</text><text x="630.4" y="101.7" textLength="22.9" lengthAdjust="spacingAndGlyphs">Sri Lanka</text><text x="651.8" y="142.6" textLength="22.2" lengthAdjust="spacingAndGlyphs">Maldives</text><text x="574.2" y="138.6" textLength="21.5" lengthAdjust="spacingAndGlyphs">Zanzibar</text><text x="619.1" y="151.7" textLength="27" lengthAdjust="spacingAndGlyphs">Seychelles</text><text x="563.3" y="166.8" textLength="21" lengthAdjust="spacingAndGlyphs">Comoros</text><text x="593.9" y="169.1" textLength="19.3" lengthAdjust="spacingAndGlyphs">Mayotte</text><text x="553.2" y="200.8" textLength="29.9" lengthAdjust="spacingAndGlyphs">Madagascar</text><text x="619.8" y="179.6" textLength="22.6" lengthAdjust="spacingAndGlyphs">Mauritius</text><text x="599" y="202.5" textLength="20.1" lengthAdjust="spacingAndGlyphs">Reunion</text><text x="377.1" y="62.6" textLength="21.8" lengthAdjust="spacingAndGlyphs">Bermuda</text><text x="334.9" y="88.9" textLength="22.2" lengthAdjust="spacingAndGlyphs">Bahamas</text><text x="365.6" y="104.7" textLength="48.8" lengthAdjust="spacingAndGlyphs">Dominican Republic</text><text x="350.9" y="120.8" textLength="10.8" lengthAdjust="spacingAndGlyphs">Haiti</text><text x="280.6" y="128.6" textLength="38.8" lengthAdjust="spacingAndGlyphs">Cayman Islands</text><text x="325.8" y="150.8" textLength="19.8" lengthAdjust="spacingAndGlyphs">Jamaica</text><text x="396" y="123.7" textLength="42.7" lengthAdjust="spacingAndGlyphs">St Kitts and Nevis</text><text x="401.9" y="137.4" textLength="51.1" lengthAdjust="spacingAndGlyphs">Antigua and Barbuda</text><text x="411.2" y="145.4" textLength="22.3" lengthAdjust="spacingAndGlyphs">Dominica</text><text x="370.4" y="153.7" textLength="19.3" lengthAdjust="spacingAndGlyphs">St Lucia</text><text x="411.2" y="156.2" textLength="23.5" lengthAdjust="spacingAndGlyphs">Barbados</text><text x="272.7" y="166.7" textLength="74.3" lengthAdjust="spacingAndGlyphs">St Vincent and the Grenadines</text><text x="369.8" y="163.6" textLength="19.8" lengthAdjust="spacingAndGlyphs">Grenada</text><text x="380.6" y="178.2" textLength="48.8" lengthAdjust="spacingAndGlyphs">Trinidad and Tobago</text></g>
<text x="93.5" y="270.6" textLength="71.4" lengthAdjust="spacing" style="font-size:3.7px;font-style:italic;fill:#2a3340;stroke:#2a3340;stroke-width:.12px">Based on the Equal Earth projection</text>
<!-- legend: circles -->
<text class="lg" x="90.5" y="287" textLength="57.3" lengthAdjust="spacingAndGlyphs" font-weight="bold">Number of rooms</text>
<g fill="none" stroke="#555" stroke-width="0.55"><circle cx="39.4" cy="316.4" r="23.3"/><circle cx="115.5" cy="316.2" r="11.8"/><circle cx="168" cy="316.2" r="3.2"/><circle cx="206.3" cy="316.3" r="1.1" stroke-width="0.45"/></g>
<g class="lg"><text x="68.1" y="318.8" textLength="23.1" lengthAdjust="spacingAndGlyphs">100 000</text><text x="132.1" y="318.5" textLength="20.1" lengthAdjust="spacingAndGlyphs">25 000</text><text x="177" y="318.5" textLength="15.7" lengthAdjust="spacingAndGlyphs">2 000</text><text x="212.7" y="318.5" textLength="10.9" lengthAdjust="spacingAndGlyphs">200</text></g>
<!-- legend: bars -->
<text class="lg" x="316.9" y="287.1"><tspan font-weight="bold" textLength="72.9" lengthAdjust="spacingAndGlyphs">Average length of stay</tspan><tspan x="391.8" textLength="24.1" lengthAdjust="spacingAndGlyphs">(in day)</tspan></text>
<rect x="270.3" y="322.7" width="23.8" height="12.8" fill="#f8d47f"/>
<rect x="295" y="293.6" width="28.8" height="41.9" fill="#ee8c34"/>
<rect x="324.6" y="316.6" width="53.8" height="18.9" fill="#db2329"/>
<rect x="379.3" y="330.5" width="57.7" height="5" fill="#891a33"/>
<g class="lg" text-anchor="middle" style="font-size:6.4px;stroke:#222;stroke-width:.2px"><text x="270.8" y="343.8">0</text><text x="294.5" y="343.8">5</text><text x="325.3" y="343.8">10</text><text x="378.8" y="343.8">20</text><text x="437.2" y="343.8">30</text></g>
<!-- credits -->
<text class="it" x="679.8" y="300.4" text-anchor="end" textLength="161.8" lengthAdjust="spacingAndGlyphs">The data collected by the institutions are from before the Covid crisis.</text><text class="cn" x="678.3" y="309.4" text-anchor="end" textLength="84.4" lengthAdjust="spacingAndGlyphs">United Nations, World Statistics Pocketbook,</text><text class="cn" x="680.1" y="318.2" text-anchor="end" textLength="121.2" lengthAdjust="spacingAndGlyphs">World Tourism Organization, Compendium of Tourism Statistics,</text><text class="cn" x="680.1" y="326.6" text-anchor="end" textLength="183.1" lengthAdjust="spacingAndGlyphs">Japan International Cooperation Agency Data Collection, Survey on Tourism Industry Promotion,</text><text class="cn" x="680.1" y="335.4" text-anchor="end" textLength="58.5" lengthAdjust="spacingAndGlyphs">Republic of Fiji,  Fijian Tourism,</text><text class="cn" x="680.1" y="344.1" text-anchor="end" textLength="85.4" lengthAdjust="spacingAndGlyphs">Cayman Islands, National Tourism Plan, 2020</text>
<g class="au"><text x="606.9" y="266.2" textLength="47.9" lengthAdjust="spacing" font-weight="bold" fill="#222">Nuria, Van Rhennon,</text><text x="605.4" y="271" textLength="49.7" lengthAdjust="spacing" font-weight="bold" fill="#222">Sobry and Melo 2023</text><text x="591.6" y="276.7" textLength="62" lengthAdjust="spacing" fill="#555">Design Emmanuel Marcadé</text><text x="589.1" y="282.6" textLength="65.7" lengthAdjust="spacing" fill="#555">University of Reunion Island</text></g>
<g fill="none" stroke="#1a1a1a"><path d="M657.6,269.5 L659.6,263.6 L665,261.6 L671.9,262.6 L675,265.2 L678,273 L676.8,275.5" stroke="#b0b0b0" stroke-width="0.5"/><path d="M662.4,263 L661.3,278" stroke-width="1.7"/><path d="M668.6,263.4 L664.3,277.4" stroke-width="1.3"/><path d="M667,268.8 L678.8,280.4" stroke-width="1.9"/><path d="M667.3,268.2 L672.4,263" stroke-width="1.1"/><path d="M656.6,279.9 Q656.8,278 658.6,278 L668.2,278 L668.2,282 L658.6,282 Q656.6,281.8 656.6,279.9 Z" fill="#1f1f1f" stroke="none"/><path d="M659,279.7 L667.4,279.7" stroke="#fff" stroke-width="0.5"/><path d="M669.6,281.6 L678.6,281.6" stroke-width="1" stroke-dasharray="1.3 0.6"/></g>
<rect x="1.5" y="2.0" width="680.3" height="347.5" fill="none" stroke="#c8c8c8" stroke-width="1.1"/>
</svg></body></html>
